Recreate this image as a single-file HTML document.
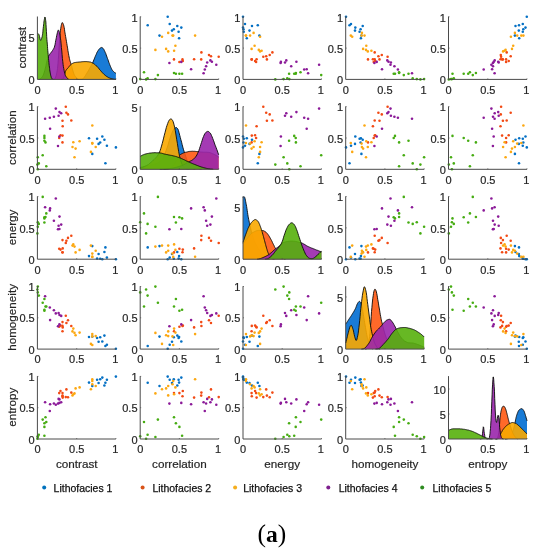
<!DOCTYPE html>
<html lang="en">
<head>
<meta charset="utf-8">
<title>Pair plot of texture features by lithofacies (a)</title>
<style>
html,body{margin:0;padding:0;background:#fff;}
body{width:550px;height:556px;overflow:hidden;font-family:"Liberation Sans",Arial,sans-serif;}
svg{display:block;}
</style>
</head>
<body>
<svg width="550" height="556" viewBox="0 0 550 556" font-family="'Liberation Sans', Arial, sans-serif">
<rect width="550" height="556" fill="#ffffff"/>
<g>
<path d="M76.7 79.4 L77.1 79.4 L77.5 79.4 L78 79.4 L78.4 79.4 L78.9 79.3 L79.3 79.3 L79.7 79.3 L80.2 79.2 L80.6 79.2 L81.1 79.2 L81.5 79.1 L81.9 79.1 L82.4 79 L82.8 78.8 L83.3 78.5 L83.7 78.1 L84.1 77.5 L84.6 76.8 L85 76.1 L85.5 75.4 L85.9 74.7 L86.4 74 L86.8 73.3 L87.2 72.6 L87.7 71.9 L88.1 71.1 L88.6 70.3 L89 69.5 L89.4 68.7 L89.9 67.9 L90.3 67.1 L90.8 66.3 L91.2 65.5 L91.6 64.7 L92.1 63.9 L92.5 63 L93 62.1 L93.4 61.1 L93.8 60 L94.3 58.9 L94.7 57.7 L95.2 56.6 L95.6 55.6 L96.1 54.6 L96.5 53.6 L96.9 52.6 L97.4 51.7 L97.8 51 L98.3 50.3 L98.7 49.7 L99.1 49.1 L99.6 48.6 L100 48.2 L100.5 47.9 L100.9 47.7 L101.3 47.5 L101.8 47.5 L102.2 47.7 L102.7 48 L103.1 48.4 L103.6 48.9 L104 49.7 L104.4 50.6 L104.9 51.6 L105.3 52.6 L105.8 53.6 L106.2 54.8 L106.6 56 L107.1 57.3 L107.5 58.5 L108 59.7 L108.4 60.9 L108.8 62.2 L109.3 63.4 L109.7 64.6 L110.2 65.7 L110.6 66.7 L111 67.7 L111.5 68.7 L111.9 69.5 L112.4 70.2 L112.8 70.8 L113.3 71.3 L113.7 71.7 L114.1 72.1 L114.6 72.5 L115 72.8 L115.5 73 L115.9 73 L115.9 79.4 L76.7 79.4 Z" fill="#006DD1" fill-opacity="0.9" stroke="none"/>
<path d="M76.7 79.4 L77.1 79.4 L77.5 79.4 L78 79.4 L78.4 79.4 L78.9 79.3 L79.3 79.3 L79.7 79.3 L80.2 79.2 L80.6 79.2 L81.1 79.2 L81.5 79.1 L81.9 79.1 L82.4 79 L82.8 78.8 L83.3 78.5 L83.7 78.1 L84.1 77.5 L84.6 76.8 L85 76.1 L85.5 75.4 L85.9 74.7 L86.4 74 L86.8 73.3 L87.2 72.6 L87.7 71.9 L88.1 71.1 L88.6 70.3 L89 69.5 L89.4 68.7 L89.9 67.9 L90.3 67.1 L90.8 66.3 L91.2 65.5 L91.6 64.7 L92.1 63.9 L92.5 63 L93 62.1 L93.4 61.1 L93.8 60 L94.3 58.9 L94.7 57.7 L95.2 56.6 L95.6 55.6 L96.1 54.6 L96.5 53.6 L96.9 52.6 L97.4 51.7 L97.8 51 L98.3 50.3 L98.7 49.7 L99.1 49.1 L99.6 48.6 L100 48.2 L100.5 47.9 L100.9 47.7 L101.3 47.5 L101.8 47.5 L102.2 47.7 L102.7 48 L103.1 48.4 L103.6 48.9 L104 49.7 L104.4 50.6 L104.9 51.6 L105.3 52.6 L105.8 53.6 L106.2 54.8 L106.6 56 L107.1 57.3 L107.5 58.5 L108 59.7 L108.4 60.9 L108.8 62.2 L109.3 63.4 L109.7 64.6 L110.2 65.7 L110.6 66.7 L111 67.7 L111.5 68.7 L111.9 69.5 L112.4 70.2 L112.8 70.8 L113.3 71.3 L113.7 71.7 L114.1 72.1 L114.6 72.5 L115 72.8 L115.5 73 L115.9 73" fill="none" stroke="#0a0a0a" stroke-width="0.9" stroke-linejoin="round"/>
<path d="M53.1 79.4 L53.4 79.4 L53.7 79.3 L54 79.3 L54.3 79.2 L54.6 79 L54.8 78.9 L55.1 78.4 L55.4 77.8 L55.7 77 L56 76.1 L56.3 75.2 L56.6 73.9 L56.9 72.4 L57.2 70.5 L57.5 68.4 L57.8 66 L58 63.3 L58.3 59.6 L58.6 55.1 L58.9 50.3 L59.2 45.7 L59.5 41.1 L59.8 36.7 L60.1 33.4 L60.4 30.8 L60.7 28.7 L61 26.9 L61.2 25.6 L61.5 24.3 L61.8 23.3 L62.1 22.7 L62.4 22.6 L62.7 22.9 L63 23.5 L63.3 24.3 L63.6 25.1 L63.9 26.2 L64.2 27.6 L64.5 29.3 L64.7 31.1 L65 33 L65.3 34.7 L65.6 36.4 L65.9 38.1 L66.2 39.9 L66.5 41.7 L66.8 43.5 L67.1 45.3 L67.4 47.1 L67.7 48.8 L67.9 50.4 L68.2 52.1 L68.5 53.8 L68.8 55.5 L69.1 57 L69.4 58.4 L69.7 59.7 L70 60.8 L70.3 61.8 L70.6 62.7 L70.9 63.7 L71.1 64.6 L71.4 65.5 L71.7 66.5 L72 67.6 L72.3 68.7 L72.6 69.8 L72.9 70.8 L73.2 71.8 L73.5 72.8 L73.8 73.6 L74.1 74.3 L74.3 74.9 L74.6 75.4 L74.9 75.9 L75.2 76.3 L75.5 76.7 L75.8 77.1 L76.1 77.4 L76.4 77.7 L76.7 78 L77 78.2 L77.3 78.4 L77.5 78.7 L77.8 78.9 L78.1 79 L78.4 79.2 L78.7 79.3 L79 79.4 L79 79.4 L53.1 79.4 Z" fill="#FF5912" fill-opacity="0.9" stroke="none"/>
<path d="M53.1 79.4 L53.4 79.4 L53.7 79.3 L54 79.3 L54.3 79.2 L54.6 79 L54.8 78.9 L55.1 78.4 L55.4 77.8 L55.7 77 L56 76.1 L56.3 75.2 L56.6 73.9 L56.9 72.4 L57.2 70.5 L57.5 68.4 L57.8 66 L58 63.3 L58.3 59.6 L58.6 55.1 L58.9 50.3 L59.2 45.7 L59.5 41.1 L59.8 36.7 L60.1 33.4 L60.4 30.8 L60.7 28.7 L61 26.9 L61.2 25.6 L61.5 24.3 L61.8 23.3 L62.1 22.7 L62.4 22.6 L62.7 22.9 L63 23.5 L63.3 24.3 L63.6 25.1 L63.9 26.2 L64.2 27.6 L64.5 29.3 L64.7 31.1 L65 33 L65.3 34.7 L65.6 36.4 L65.9 38.1 L66.2 39.9 L66.5 41.7 L66.8 43.5 L67.1 45.3 L67.4 47.1 L67.7 48.8 L67.9 50.4 L68.2 52.1 L68.5 53.8 L68.8 55.5 L69.1 57 L69.4 58.4 L69.7 59.7 L70 60.8 L70.3 61.8 L70.6 62.7 L70.9 63.7 L71.1 64.6 L71.4 65.5 L71.7 66.5 L72 67.6 L72.3 68.7 L72.6 69.8 L72.9 70.8 L73.2 71.8 L73.5 72.8 L73.8 73.6 L74.1 74.3 L74.3 74.9 L74.6 75.4 L74.9 75.9 L75.2 76.3 L75.5 76.7 L75.8 77.1 L76.1 77.4 L76.4 77.7 L76.7 78 L77 78.2 L77.3 78.4 L77.5 78.7 L77.8 78.9 L78.1 79 L78.4 79.2 L78.7 79.3 L79 79.4" fill="none" stroke="#0a0a0a" stroke-width="0.9" stroke-linejoin="round"/>
<path d="M61 79.4 L61.6 79.3 L62.2 79.2 L62.8 78.9 L63.4 78.5 L64 76.7 L64.7 74 L65.3 71.7 L65.9 70.5 L66.5 69.6 L67.1 68.9 L67.7 68.2 L68.4 67.5 L69 66.7 L69.6 65.9 L70.2 65.2 L70.8 64.6 L71.4 64.1 L72.1 63.7 L72.7 63.3 L73.3 63 L73.9 62.8 L74.5 62.6 L75.2 62.5 L75.8 62.4 L76.4 62.3 L77 62.3 L77.6 62.2 L78.2 62.1 L78.9 62.1 L79.5 62 L80.1 62 L80.7 61.9 L81.3 61.8 L81.9 61.8 L82.6 61.7 L83.2 61.7 L83.8 61.6 L84.4 61.6 L85 61.6 L85.6 61.6 L86.3 61.6 L86.9 61.6 L87.5 61.7 L88.1 61.7 L88.7 61.8 L89.4 61.9 L90 61.9 L90.6 62.1 L91.2 62.4 L91.8 62.7 L92.4 63 L93.1 63.3 L93.7 63.7 L94.3 64.1 L94.9 64.6 L95.5 65.1 L96.1 65.7 L96.8 66.2 L97.4 66.8 L98 67.5 L98.6 68.2 L99.2 69 L99.8 69.8 L100.5 70.5 L101.1 71.2 L101.7 71.9 L102.3 72.6 L102.9 73.2 L103.6 73.9 L104.2 74.5 L104.8 75 L105.4 75.5 L106 76 L106.6 76.4 L107.3 76.8 L107.9 77.2 L108.5 77.6 L109.1 77.8 L109.7 78.1 L110.3 78.3 L111 78.5 L111.6 78.6 L112.2 78.8 L112.8 78.9 L113.4 79.1 L114 79.2 L114.7 79.3 L115.3 79.3 L115.9 79.4 L115.9 79.4 L61 79.4 Z" fill="#F9A900" fill-opacity="0.9" stroke="none"/>
<path d="M61 79.4 L61.6 79.3 L62.2 79.2 L62.8 78.9 L63.4 78.5 L64 76.7 L64.7 74 L65.3 71.7 L65.9 70.5 L66.5 69.6 L67.1 68.9 L67.7 68.2 L68.4 67.5 L69 66.7 L69.6 65.9 L70.2 65.2 L70.8 64.6 L71.4 64.1 L72.1 63.7 L72.7 63.3 L73.3 63 L73.9 62.8 L74.5 62.6 L75.2 62.5 L75.8 62.4 L76.4 62.3 L77 62.3 L77.6 62.2 L78.2 62.1 L78.9 62.1 L79.5 62 L80.1 62 L80.7 61.9 L81.3 61.8 L81.9 61.8 L82.6 61.7 L83.2 61.7 L83.8 61.6 L84.4 61.6 L85 61.6 L85.6 61.6 L86.3 61.6 L86.9 61.6 L87.5 61.7 L88.1 61.7 L88.7 61.8 L89.4 61.9 L90 61.9 L90.6 62.1 L91.2 62.4 L91.8 62.7 L92.4 63 L93.1 63.3 L93.7 63.7 L94.3 64.1 L94.9 64.6 L95.5 65.1 L96.1 65.7 L96.8 66.2 L97.4 66.8 L98 67.5 L98.6 68.2 L99.2 69 L99.8 69.8 L100.5 70.5 L101.1 71.2 L101.7 71.9 L102.3 72.6 L102.9 73.2 L103.6 73.9 L104.2 74.5 L104.8 75 L105.4 75.5 L106 76 L106.6 76.4 L107.3 76.8 L107.9 77.2 L108.5 77.6 L109.1 77.8 L109.7 78.1 L110.3 78.3 L111 78.5 L111.6 78.6 L112.2 78.8 L112.8 78.9 L113.4 79.1 L114 79.2 L114.7 79.3 L115.3 79.3 L115.9 79.4" fill="none" stroke="#0a0a0a" stroke-width="0.9" stroke-linejoin="round"/>
<path d="M39 79.4 L39.3 79.3 L39.6 79.1 L40 79 L40.3 78.8 L40.6 78.5 L41 78.2 L41.3 77.9 L41.7 77.6 L42 77.2 L42.3 76.7 L42.7 76.2 L43 75.6 L43.3 75 L43.7 74.1 L44 73.1 L44.3 72 L44.7 70.8 L45 69.5 L45.3 68.2 L45.7 66.9 L46 65.4 L46.3 63.8 L46.7 62.2 L47 60.8 L47.3 59.6 L47.7 58.6 L48 57.6 L48.4 56.7 L48.7 56 L49 55.3 L49.4 54.8 L49.7 54.3 L50 53.8 L50.4 53.4 L50.7 53 L51 52.6 L51.4 52.1 L51.7 51.7 L52 51.2 L52.4 50.7 L52.7 50.2 L53 49.7 L53.4 49.2 L53.7 48.6 L54.1 47.9 L54.4 47.1 L54.7 45.9 L55.1 44.3 L55.4 42.5 L55.7 40.7 L56.1 38.9 L56.4 37.3 L56.7 35.6 L57.1 34 L57.4 32.5 L57.7 31.3 L58.1 30.4 L58.4 29.9 L58.7 30.4 L59.1 31.4 L59.4 32.5 L59.8 34 L60.1 35.9 L60.4 38.1 L60.8 40.7 L61.1 43.9 L61.4 47.5 L61.8 51 L62.1 54.6 L62.4 58.4 L62.8 61.7 L63.1 64.4 L63.4 66.7 L63.8 68.7 L64.1 70.4 L64.4 71.9 L64.8 73.3 L65.1 74.5 L65.4 75.4 L65.8 76.1 L66.1 76.7 L66.5 77.2 L66.8 77.7 L67.1 78.1 L67.5 78.4 L67.8 78.7 L68.1 79 L68.5 79.2 L68.8 79.4 L68.8 79.4 L39 79.4 Z" fill="#9A26AC" fill-opacity="0.9" stroke="none"/>
<path d="M39 79.4 L39.3 79.3 L39.6 79.1 L40 79 L40.3 78.8 L40.6 78.5 L41 78.2 L41.3 77.9 L41.7 77.6 L42 77.2 L42.3 76.7 L42.7 76.2 L43 75.6 L43.3 75 L43.7 74.1 L44 73.1 L44.3 72 L44.7 70.8 L45 69.5 L45.3 68.2 L45.7 66.9 L46 65.4 L46.3 63.8 L46.7 62.2 L47 60.8 L47.3 59.6 L47.7 58.6 L48 57.6 L48.4 56.7 L48.7 56 L49 55.3 L49.4 54.8 L49.7 54.3 L50 53.8 L50.4 53.4 L50.7 53 L51 52.6 L51.4 52.1 L51.7 51.7 L52 51.2 L52.4 50.7 L52.7 50.2 L53 49.7 L53.4 49.2 L53.7 48.6 L54.1 47.9 L54.4 47.1 L54.7 45.9 L55.1 44.3 L55.4 42.5 L55.7 40.7 L56.1 38.9 L56.4 37.3 L56.7 35.6 L57.1 34 L57.4 32.5 L57.7 31.3 L58.1 30.4 L58.4 29.9 L58.7 30.4 L59.1 31.4 L59.4 32.5 L59.8 34 L60.1 35.9 L60.4 38.1 L60.8 40.7 L61.1 43.9 L61.4 47.5 L61.8 51 L62.1 54.6 L62.4 58.4 L62.8 61.7 L63.1 64.4 L63.4 66.7 L63.8 68.7 L64.1 70.4 L64.4 71.9 L64.8 73.3 L65.1 74.5 L65.4 75.4 L65.8 76.1 L66.1 76.7 L66.5 77.2 L66.8 77.7 L67.1 78.1 L67.5 78.4 L67.8 78.7 L68.1 79 L68.5 79.2 L68.8 79.4" fill="none" stroke="#0a0a0a" stroke-width="0.9" stroke-linejoin="round"/>
<path d="M37.4 33.3 L37.6 33.3 L37.8 33.4 L37.9 33.5 L38.1 33.6 L38.3 33.8 L38.5 34 L38.6 34.2 L38.8 34.4 L39 34.6 L39.2 35 L39.3 35.6 L39.5 36.4 L39.7 37.2 L39.9 38.1 L40 38.9 L40.2 39.6 L40.4 40.1 L40.6 40.3 L40.8 40.3 L40.9 40.1 L41.1 39.8 L41.3 39.4 L41.5 39 L41.6 38.4 L41.8 37.8 L42 37.1 L42.2 36.5 L42.3 35.7 L42.5 34.8 L42.7 33.4 L42.9 31.9 L43 30.1 L43.2 28.3 L43.4 26.6 L43.6 24.9 L43.8 23.4 L43.9 22.1 L44.1 20.9 L44.3 19.7 L44.5 18.6 L44.6 17.7 L44.8 17.1 L45 17 L45.2 17.3 L45.3 18.1 L45.5 19.2 L45.7 20.6 L45.9 22.1 L46 24.4 L46.2 27.9 L46.4 31.3 L46.6 34.1 L46.7 36.7 L46.9 39.3 L47.1 41.7 L47.3 44.1 L47.5 46.4 L47.6 48.6 L47.8 50.8 L48 52.9 L48.2 54.8 L48.3 56.7 L48.5 58.6 L48.7 60.5 L48.9 62.3 L49 64 L49.2 65.6 L49.4 67.1 L49.6 68.4 L49.7 69.7 L49.9 71 L50.1 72.2 L50.3 73.2 L50.5 74.2 L50.6 75 L50.8 75.7 L51 76.3 L51.2 76.9 L51.3 77.4 L51.5 77.9 L51.7 78.2 L51.9 78.5 L52 78.7 L52.2 78.9 L52.4 79.1 L52.6 79.2 L52.7 79.3 L52.9 79.4 L53.1 79.4 L53.1 79.4 L37.4 79.4 Z" fill="#57B00C" fill-opacity="0.9" stroke="none"/>
<path d="M37.4 33.3 L37.6 33.3 L37.8 33.4 L37.9 33.5 L38.1 33.6 L38.3 33.8 L38.5 34 L38.6 34.2 L38.8 34.4 L39 34.6 L39.2 35 L39.3 35.6 L39.5 36.4 L39.7 37.2 L39.9 38.1 L40 38.9 L40.2 39.6 L40.4 40.1 L40.6 40.3 L40.8 40.3 L40.9 40.1 L41.1 39.8 L41.3 39.4 L41.5 39 L41.6 38.4 L41.8 37.8 L42 37.1 L42.2 36.5 L42.3 35.7 L42.5 34.8 L42.7 33.4 L42.9 31.9 L43 30.1 L43.2 28.3 L43.4 26.6 L43.6 24.9 L43.8 23.4 L43.9 22.1 L44.1 20.9 L44.3 19.7 L44.5 18.6 L44.6 17.7 L44.8 17.1 L45 17 L45.2 17.3 L45.3 18.1 L45.5 19.2 L45.7 20.6 L45.9 22.1 L46 24.4 L46.2 27.9 L46.4 31.3 L46.6 34.1 L46.7 36.7 L46.9 39.3 L47.1 41.7 L47.3 44.1 L47.5 46.4 L47.6 48.6 L47.8 50.8 L48 52.9 L48.2 54.8 L48.3 56.7 L48.5 58.6 L48.7 60.5 L48.9 62.3 L49 64 L49.2 65.6 L49.4 67.1 L49.6 68.4 L49.7 69.7 L49.9 71 L50.1 72.2 L50.3 73.2 L50.5 74.2 L50.6 75 L50.8 75.7 L51 76.3 L51.2 76.9 L51.3 77.4 L51.5 77.9 L51.7 78.2 L51.9 78.5 L52 78.7 L52.2 78.9 L52.4 79.1 L52.6 79.2 L52.7 79.3 L52.9 79.4 L53.1 79.4" fill="none" stroke="#0a0a0a" stroke-width="0.9" stroke-linejoin="round"/>
<path d="M37.4 16.5 V79.4 H115.9" fill="none" stroke="#4a4a4a" stroke-width="1"/>
<path d="M76.7 79.4 v-1 M115.9 79.4 v-1" stroke="#4a4a4a" stroke-width="0.7"/>
<path d="M37.4 37.3 h1" stroke="#4a4a4a" stroke-width="0.7"/>
</g>
<g>
<g fill="#0470C4"><circle cx="167.7" cy="16.8" r="1.28"/><circle cx="147.7" cy="25.2" r="1.28"/><circle cx="169.7" cy="24" r="1.28"/><circle cx="177.3" cy="26" r="1.28"/><circle cx="181.3" cy="27.6" r="1.28"/><circle cx="173.8" cy="29.3" r="1.28"/><circle cx="172" cy="30.6" r="1.28"/><circle cx="178.6" cy="31.8" r="1.28"/><circle cx="159.5" cy="35.6" r="1.28"/><circle cx="179.1" cy="38.3" r="1.28"/></g>
<g fill="#F24A14"><circle cx="201.4" cy="52.4" r="1.28"/><circle cx="209" cy="55" r="1.28"/><circle cx="211" cy="56.2" r="1.28"/><circle cx="218.7" cy="56.7" r="1.28"/><circle cx="174" cy="59.4" r="1.28"/><circle cx="182.5" cy="59.4" r="1.28"/><circle cx="194.1" cy="59.2" r="1.28"/><circle cx="201.2" cy="59.4" r="1.28"/><circle cx="179.4" cy="62" r="1.28"/><circle cx="182.8" cy="61" r="1.28"/></g>
<g fill="#FCA812"><circle cx="168.2" cy="32.9" r="1.28"/><circle cx="162" cy="36.7" r="1.28"/><circle cx="172.5" cy="35.6" r="1.28"/><circle cx="195.1" cy="35.6" r="1.28"/><circle cx="173.2" cy="35.6" r="1.28"/><circle cx="175.4" cy="45.7" r="1.28"/><circle cx="155.4" cy="49.9" r="1.28"/><circle cx="166.1" cy="48.9" r="1.28"/><circle cx="168.2" cy="51.4" r="1.28"/><circle cx="174.1" cy="50.8" r="1.28"/></g>
<g fill="#8B1A98"><circle cx="169.4" cy="63" r="1.28"/><circle cx="181.3" cy="61.9" r="1.28"/><circle cx="210.4" cy="60.4" r="1.28"/><circle cx="211.9" cy="61.7" r="1.28"/><circle cx="207.2" cy="62.5" r="1.28"/><circle cx="216.3" cy="64.7" r="1.28"/><circle cx="206.1" cy="66.3" r="1.28"/><circle cx="191.1" cy="69.3" r="1.28"/><circle cx="204.8" cy="69.5" r="1.28"/><circle cx="203.6" cy="73.3" r="1.28"/></g>
<g fill="#46AC12"><circle cx="144" cy="72.3" r="1.28"/><circle cx="157.9" cy="75.1" r="1.28"/><circle cx="174" cy="73" r="1.28"/><circle cx="175.9" cy="73.8" r="1.28"/><circle cx="179.4" cy="73.8" r="1.28"/><circle cx="182.1" cy="73.8" r="1.28"/><circle cx="140.2" cy="79.1" r="1.28"/><circle cx="146.1" cy="79.4" r="1.28"/><circle cx="147.6" cy="78.3" r="1.28"/><circle cx="155.4" cy="79.1" r="1.28"/></g>
<path d="M140.2 16.5 V79.4 H218.7" fill="none" stroke="#4a4a4a" stroke-width="1"/>
<path d="M179.4 79.4 v-1 M218.7 79.4 v-1" stroke="#4a4a4a" stroke-width="0.7"/>
<path d="M140.2 48.1 h1 M140.2 16.8 h1" stroke="#4a4a4a" stroke-width="0.7"/>
</g>
<g>
<g fill="#0470C4"><circle cx="243" cy="16.8" r="1.28"/><circle cx="257.8" cy="25.2" r="1.28"/><circle cx="245" cy="24" r="1.28"/><circle cx="252" cy="26" r="1.28"/><circle cx="243" cy="27.6" r="1.28"/><circle cx="243.5" cy="29.3" r="1.28"/><circle cx="249.5" cy="30.6" r="1.28"/><circle cx="243.8" cy="31.8" r="1.28"/><circle cx="259.4" cy="35.6" r="1.28"/><circle cx="246.8" cy="38.3" r="1.28"/></g>
<g fill="#F24A14"><circle cx="272.4" cy="52.4" r="1.28"/><circle cx="269.7" cy="55" r="1.28"/><circle cx="266.2" cy="56.2" r="1.28"/><circle cx="263.3" cy="56.7" r="1.28"/><circle cx="251.6" cy="59.4" r="1.28"/><circle cx="251.8" cy="59.4" r="1.28"/><circle cx="256.6" cy="59.2" r="1.28"/><circle cx="266.9" cy="59.4" r="1.28"/><circle cx="256.1" cy="62" r="1.28"/><circle cx="255.1" cy="61" r="1.28"/></g>
<g fill="#FCA812"><circle cx="253.6" cy="32.9" r="1.28"/><circle cx="260.1" cy="36.7" r="1.28"/><circle cx="250.1" cy="35.6" r="1.28"/><circle cx="246" cy="35.6" r="1.28"/><circle cx="245.9" cy="35.6" r="1.28"/><circle cx="254.6" cy="45.7" r="1.28"/><circle cx="258.8" cy="49.9" r="1.28"/><circle cx="251.6" cy="48.9" r="1.28"/><circle cx="260.1" cy="51.4" r="1.28"/><circle cx="261.6" cy="50.8" r="1.28"/></g>
<g fill="#8B1A98"><circle cx="280.6" cy="63" r="1.28"/><circle cx="280.9" cy="61.9" r="1.28"/><circle cx="286.3" cy="60.4" r="1.28"/><circle cx="296.4" cy="61.7" r="1.28"/><circle cx="285" cy="62.5" r="1.28"/><circle cx="319.1" cy="64.7" r="1.28"/><circle cx="291.2" cy="66.3" r="1.28"/><circle cx="306.7" cy="69.3" r="1.28"/><circle cx="304.2" cy="69.5" r="1.28"/><circle cx="308.1" cy="73.3" r="1.28"/></g>
<g fill="#46AC12"><circle cx="300.5" cy="72.3" r="1.28"/><circle cx="321.2" cy="75.1" r="1.28"/><circle cx="295.9" cy="73" r="1.28"/><circle cx="289.1" cy="73.8" r="1.28"/><circle cx="295.7" cy="73.8" r="1.28"/><circle cx="294.2" cy="73.8" r="1.28"/><circle cx="289.3" cy="79.1" r="1.28"/><circle cx="275.3" cy="79.4" r="1.28"/><circle cx="287.3" cy="78.3" r="1.28"/><circle cx="283.6" cy="79.1" r="1.28"/></g>
<path d="M243 16.5 V79.4 H321.5" fill="none" stroke="#4a4a4a" stroke-width="1"/>
<path d="M282.2 79.4 v-1 M321.5 79.4 v-1" stroke="#4a4a4a" stroke-width="0.7"/>
<path d="M243 48.1 h1 M243 16.8 h1" stroke="#4a4a4a" stroke-width="0.7"/>
</g>
<g>
<g fill="#0470C4"><circle cx="346" cy="16.8" r="1.28"/><circle cx="349.5" cy="25.2" r="1.28"/><circle cx="351" cy="24" r="1.28"/><circle cx="362.7" cy="26" r="1.28"/><circle cx="355.3" cy="27.6" r="1.28"/><circle cx="360.6" cy="29.3" r="1.28"/><circle cx="355" cy="30.6" r="1.28"/><circle cx="359.6" cy="31.8" r="1.28"/><circle cx="361.4" cy="35.6" r="1.28"/><circle cx="360.9" cy="38.3" r="1.28"/></g>
<g fill="#F24A14"><circle cx="374.7" cy="52.4" r="1.28"/><circle cx="381.8" cy="55" r="1.28"/><circle cx="378.4" cy="56.2" r="1.28"/><circle cx="387.6" cy="56.7" r="1.28"/><circle cx="368" cy="59.4" r="1.28"/><circle cx="374.7" cy="59.4" r="1.28"/><circle cx="372.9" cy="59.2" r="1.28"/><circle cx="379.5" cy="59.4" r="1.28"/><circle cx="373.7" cy="62" r="1.28"/><circle cx="375.2" cy="61" r="1.28"/></g>
<g fill="#FCA812"><circle cx="361.9" cy="32.9" r="1.28"/><circle cx="352.2" cy="36.7" r="1.28"/><circle cx="361.6" cy="35.6" r="1.28"/><circle cx="364.5" cy="35.6" r="1.28"/><circle cx="350.8" cy="35.6" r="1.28"/><circle cx="366.3" cy="45.7" r="1.28"/><circle cx="366" cy="49.9" r="1.28"/><circle cx="363.1" cy="48.9" r="1.28"/><circle cx="367.8" cy="51.4" r="1.28"/><circle cx="371.4" cy="50.8" r="1.28"/></g>
<g fill="#8B1A98"><circle cx="374.4" cy="63" r="1.28"/><circle cx="376.7" cy="61.9" r="1.28"/><circle cx="387.3" cy="60.4" r="1.28"/><circle cx="388.5" cy="61.7" r="1.28"/><circle cx="390.9" cy="62.5" r="1.28"/><circle cx="390.5" cy="64.7" r="1.28"/><circle cx="394.4" cy="66.3" r="1.28"/><circle cx="382" cy="69.3" r="1.28"/><circle cx="397.9" cy="69.5" r="1.28"/><circle cx="412" cy="73.3" r="1.28"/></g>
<g fill="#46AC12"><circle cx="399.1" cy="72.3" r="1.28"/><circle cx="403.8" cy="75.1" r="1.28"/><circle cx="399.1" cy="73" r="1.28"/><circle cx="408.5" cy="73.8" r="1.28"/><circle cx="393.7" cy="73.8" r="1.28"/><circle cx="395" cy="73.8" r="1.28"/><circle cx="416.8" cy="79.1" r="1.28"/><circle cx="420.4" cy="79.4" r="1.28"/><circle cx="412.7" cy="78.3" r="1.28"/><circle cx="424.1" cy="79.1" r="1.28"/></g>
<path d="M345.7 16.5 V79.4 H424.2" fill="none" stroke="#4a4a4a" stroke-width="1"/>
<path d="M384.9 79.4 v-1 M424.2 79.4 v-1" stroke="#4a4a4a" stroke-width="0.7"/>
<path d="M345.7 48.1 h1 M345.7 16.8 h1" stroke="#4a4a4a" stroke-width="0.7"/>
</g>
<g>
<g fill="#0470C4"><circle cx="526.8" cy="16.8" r="1.28"/><circle cx="519" cy="25.2" r="1.28"/><circle cx="522.8" cy="24" r="1.28"/><circle cx="515.5" cy="26" r="1.28"/><circle cx="525.5" cy="27.6" r="1.28"/><circle cx="523.3" cy="29.3" r="1.28"/><circle cx="518.8" cy="30.6" r="1.28"/><circle cx="522.8" cy="31.8" r="1.28"/><circle cx="514.9" cy="35.6" r="1.28"/><circle cx="519.2" cy="38.3" r="1.28"/></g>
<g fill="#F24A14"><circle cx="506.7" cy="52.4" r="1.28"/><circle cx="500.8" cy="55" r="1.28"/><circle cx="510.7" cy="56.2" r="1.28"/><circle cx="501.1" cy="56.7" r="1.28"/><circle cx="506.1" cy="59.4" r="1.28"/><circle cx="502.1" cy="59.4" r="1.28"/><circle cx="500.5" cy="59.2" r="1.28"/><circle cx="502.9" cy="59.4" r="1.28"/><circle cx="506.1" cy="62" r="1.28"/><circle cx="508.7" cy="61" r="1.28"/></g>
<g fill="#FCA812"><circle cx="514.9" cy="32.9" r="1.28"/><circle cx="510.9" cy="36.7" r="1.28"/><circle cx="517.2" cy="35.6" r="1.28"/><circle cx="523.4" cy="35.6" r="1.28"/><circle cx="521.3" cy="35.6" r="1.28"/><circle cx="513.2" cy="45.7" r="1.28"/><circle cx="505.6" cy="49.9" r="1.28"/><circle cx="512" cy="48.9" r="1.28"/><circle cx="503.1" cy="51.4" r="1.28"/><circle cx="504.6" cy="50.8" r="1.28"/></g>
<g fill="#8B1A98"><circle cx="492.9" cy="63" r="1.28"/><circle cx="493.7" cy="61.9" r="1.28"/><circle cx="494.7" cy="60.4" r="1.28"/><circle cx="498.2" cy="61.7" r="1.28"/><circle cx="498.7" cy="62.5" r="1.28"/><circle cx="491.4" cy="64.7" r="1.28"/><circle cx="493" cy="66.3" r="1.28"/><circle cx="492.1" cy="69.3" r="1.28"/><circle cx="483.7" cy="69.5" r="1.28"/><circle cx="494.6" cy="73.3" r="1.28"/></g>
<g fill="#46AC12"><circle cx="469.9" cy="72.3" r="1.28"/><circle cx="472.8" cy="75.1" r="1.28"/><circle cx="475.9" cy="73" r="1.28"/><circle cx="468.2" cy="73.8" r="1.28"/><circle cx="463.7" cy="73.8" r="1.28"/><circle cx="452.5" cy="73.8" r="1.28"/><circle cx="451.9" cy="79.1" r="1.28"/><circle cx="448.8" cy="79.4" r="1.28"/><circle cx="453.8" cy="78.3" r="1.28"/><circle cx="451" cy="79.1" r="1.28"/></g>
<path d="M448.5 16.5 V79.4 H527" fill="none" stroke="#4a4a4a" stroke-width="1"/>
<path d="M487.8 79.4 v-1 M527 79.4 v-1" stroke="#4a4a4a" stroke-width="0.7"/>
<path d="M448.5 48.1 h1 M448.5 16.8 h1" stroke="#4a4a4a" stroke-width="0.7"/>
</g>
<g>
<g fill="#0470C4"><circle cx="115.9" cy="147.4" r="1.28"/><circle cx="105.4" cy="163.3" r="1.28"/><circle cx="106.9" cy="145.8" r="1.28"/><circle cx="104.4" cy="139.8" r="1.28"/><circle cx="102.3" cy="136.5" r="1.28"/><circle cx="100.2" cy="142.5" r="1.28"/><circle cx="98.6" cy="143.9" r="1.28"/><circle cx="97.1" cy="138.7" r="1.28"/><circle cx="92.3" cy="153.9" r="1.28"/><circle cx="89" cy="138.3" r="1.28"/></g>
<g fill="#F24A14"><circle cx="71.3" cy="120.5" r="1.28"/><circle cx="68" cy="114.4" r="1.28"/><circle cx="66.4" cy="112.8" r="1.28"/><circle cx="65.8" cy="106.7" r="1.28"/><circle cx="62.5" cy="142.4" r="1.28"/><circle cx="62.5" cy="135.6" r="1.28"/><circle cx="62.7" cy="126.3" r="1.28"/><circle cx="62.5" cy="120.7" r="1.28"/><circle cx="59.2" cy="138" r="1.28"/><circle cx="60.5" cy="135.3" r="1.28"/></g>
<g fill="#FCA812"><circle cx="95.7" cy="147" r="1.28"/><circle cx="90.9" cy="151.9" r="1.28"/><circle cx="92.3" cy="143.6" r="1.28"/><circle cx="92.3" cy="125.5" r="1.28"/><circle cx="92.3" cy="143" r="1.28"/><circle cx="79.6" cy="141.2" r="1.28"/><circle cx="74.5" cy="157.2" r="1.28"/><circle cx="75.6" cy="148.6" r="1.28"/><circle cx="72.5" cy="147" r="1.28"/><circle cx="73.3" cy="142.3" r="1.28"/></g>
<g fill="#8B1A98"><circle cx="58" cy="146" r="1.28"/><circle cx="59.4" cy="136.5" r="1.28"/><circle cx="61.2" cy="113.3" r="1.28"/><circle cx="59.5" cy="112.1" r="1.28"/><circle cx="58.6" cy="115.8" r="1.28"/><circle cx="55.8" cy="108.6" r="1.28"/><circle cx="53.9" cy="116.8" r="1.28"/><circle cx="50.1" cy="128.7" r="1.28"/><circle cx="49.8" cy="117.8" r="1.28"/><circle cx="45.1" cy="118.7" r="1.28"/></g>
<g fill="#46AC12"><circle cx="46.3" cy="166.3" r="1.28"/><circle cx="42.7" cy="155.2" r="1.28"/><circle cx="45.5" cy="142.4" r="1.28"/><circle cx="44.4" cy="140.8" r="1.28"/><circle cx="44.4" cy="138" r="1.28"/><circle cx="44.4" cy="135.9" r="1.28"/><circle cx="37.8" cy="169.3" r="1.28"/><circle cx="37.4" cy="164.6" r="1.28"/><circle cx="38.8" cy="163.4" r="1.28"/><circle cx="37.8" cy="157.2" r="1.28"/></g>
<path d="M37.4 106.4 V169.3 H115.9" fill="none" stroke="#4a4a4a" stroke-width="1"/>
<path d="M76.7 169.3 v-1 M115.9 169.3 v-1" stroke="#4a4a4a" stroke-width="0.7"/>
<path d="M37.4 138 h1 M37.4 106.7 h1" stroke="#4a4a4a" stroke-width="0.7"/>
</g>
<g>
<path d="M140.2 167.5 L140.8 167.3 L141.4 167.2 L142.1 167 L142.7 166.9 L143.3 166.7 L143.9 166.6 L144.5 166.4 L145.1 166.3 L145.8 166.2 L146.4 166 L147 165.9 L147.6 165.7 L148.2 165.6 L148.8 165.4 L149.5 165.3 L150.1 165.2 L150.7 165.1 L151.3 164.9 L151.9 164.8 L152.5 164.7 L153.2 164.6 L153.8 164.4 L154.4 164.2 L155 164.1 L155.6 163.9 L156.3 163.6 L156.9 163.4 L157.5 163.1 L158.1 162.8 L158.7 162.4 L159.3 162 L160 161.5 L160.6 161 L161.2 160.5 L161.8 159.9 L162.4 159.2 L163 158.2 L163.7 157 L164.3 155.5 L164.9 153.9 L165.5 152.2 L166.1 150.5 L166.7 148.8 L167.4 147.1 L168 145.1 L168.6 143 L169.2 140.9 L169.8 138.8 L170.5 136.8 L171.1 135 L171.7 133.5 L172.3 132.1 L172.9 130.8 L173.5 129.6 L174.2 128.7 L174.8 128.1 L175.4 127.8 L176 127.6 L176.6 127.6 L177.2 128.2 L177.9 129.1 L178.5 130.6 L179.1 132.9 L179.7 135.2 L180.3 137.5 L180.9 139.8 L181.6 142.2 L182.2 144.7 L182.8 147.1 L183.4 149.2 L184 151.1 L184.7 153 L185.3 155 L185.9 156.9 L186.5 158.7 L187.1 160.3 L187.7 161.7 L188.4 163 L189 164.1 L189.6 165.2 L190.2 166 L190.8 166.6 L191.4 167.2 L192.1 167.8 L192.7 168.3 L193.3 168.7 L193.9 169 L194.5 169.2 L195.1 169.3 L195.1 169.3 L140.2 169.3 Z" fill="#006DD1" fill-opacity="0.9" stroke="none"/>
<path d="M140.2 167.5 L140.8 167.3 L141.4 167.2 L142.1 167 L142.7 166.9 L143.3 166.7 L143.9 166.6 L144.5 166.4 L145.1 166.3 L145.8 166.2 L146.4 166 L147 165.9 L147.6 165.7 L148.2 165.6 L148.8 165.4 L149.5 165.3 L150.1 165.2 L150.7 165.1 L151.3 164.9 L151.9 164.8 L152.5 164.7 L153.2 164.6 L153.8 164.4 L154.4 164.2 L155 164.1 L155.6 163.9 L156.3 163.6 L156.9 163.4 L157.5 163.1 L158.1 162.8 L158.7 162.4 L159.3 162 L160 161.5 L160.6 161 L161.2 160.5 L161.8 159.9 L162.4 159.2 L163 158.2 L163.7 157 L164.3 155.5 L164.9 153.9 L165.5 152.2 L166.1 150.5 L166.7 148.8 L167.4 147.1 L168 145.1 L168.6 143 L169.2 140.9 L169.8 138.8 L170.5 136.8 L171.1 135 L171.7 133.5 L172.3 132.1 L172.9 130.8 L173.5 129.6 L174.2 128.7 L174.8 128.1 L175.4 127.8 L176 127.6 L176.6 127.6 L177.2 128.2 L177.9 129.1 L178.5 130.6 L179.1 132.9 L179.7 135.2 L180.3 137.5 L180.9 139.8 L181.6 142.2 L182.2 144.7 L182.8 147.1 L183.4 149.2 L184 151.1 L184.7 153 L185.3 155 L185.9 156.9 L186.5 158.7 L187.1 160.3 L187.7 161.7 L188.4 163 L189 164.1 L189.6 165.2 L190.2 166 L190.8 166.6 L191.4 167.2 L192.1 167.8 L192.7 168.3 L193.3 168.7 L193.9 169 L194.5 169.2 L195.1 169.3" fill="none" stroke="#0a0a0a" stroke-width="0.9" stroke-linejoin="round"/>
<path d="M163.8 169.3 L164.4 169.3 L165 169.3 L165.6 169.2 L166.2 169.1 L166.8 169.1 L167.5 169 L168.1 168.9 L168.7 168.8 L169.3 168.6 L169.9 168.4 L170.5 168 L171.2 167.5 L171.8 167 L172.4 166.4 L173 165.8 L173.6 165.1 L174.2 164.2 L174.9 163.2 L175.5 162.1 L176.1 161.1 L176.7 160 L177.3 158.8 L178 157.6 L178.6 156.5 L179.2 155.7 L179.8 155.1 L180.4 154.6 L181 154.2 L181.7 153.8 L182.3 153.5 L182.9 153.2 L183.5 152.9 L184.1 152.7 L184.7 152.5 L185.4 152.3 L186 152.2 L186.6 152.1 L187.2 151.9 L187.8 151.8 L188.4 151.6 L189.1 151.5 L189.7 151.4 L190.3 151.4 L190.9 151.3 L191.5 151.3 L192.2 151.2 L192.8 151.3 L193.4 151.3 L194 151.3 L194.6 151.3 L195.2 151.4 L195.9 151.4 L196.5 151.5 L197.1 151.5 L197.7 151.6 L198.3 151.7 L198.9 151.7 L199.6 151.8 L200.2 151.9 L200.8 152 L201.4 152 L202 152.1 L202.6 152.1 L203.3 152.2 L203.9 152.2 L204.5 152.2 L205.1 152.2 L205.7 152.2 L206.4 152.2 L207 152.3 L207.6 152.3 L208.2 152.3 L208.8 152.4 L209.4 152.5 L210.1 152.7 L210.7 152.9 L211.3 153.1 L211.9 153.4 L212.5 153.7 L213.1 153.9 L213.8 154.2 L214.4 154.5 L215 154.8 L215.6 155.1 L216.2 155.5 L216.8 155.8 L217.5 156.2 L218.1 156.6 L218.7 157 L218.7 169.3 L163.8 169.3 Z" fill="#FF5912" fill-opacity="0.9" stroke="none"/>
<path d="M163.8 169.3 L164.4 169.3 L165 169.3 L165.6 169.2 L166.2 169.1 L166.8 169.1 L167.5 169 L168.1 168.9 L168.7 168.8 L169.3 168.6 L169.9 168.4 L170.5 168 L171.2 167.5 L171.8 167 L172.4 166.4 L173 165.8 L173.6 165.1 L174.2 164.2 L174.9 163.2 L175.5 162.1 L176.1 161.1 L176.7 160 L177.3 158.8 L178 157.6 L178.6 156.5 L179.2 155.7 L179.8 155.1 L180.4 154.6 L181 154.2 L181.7 153.8 L182.3 153.5 L182.9 153.2 L183.5 152.9 L184.1 152.7 L184.7 152.5 L185.4 152.3 L186 152.2 L186.6 152.1 L187.2 151.9 L187.8 151.8 L188.4 151.6 L189.1 151.5 L189.7 151.4 L190.3 151.4 L190.9 151.3 L191.5 151.3 L192.2 151.2 L192.8 151.3 L193.4 151.3 L194 151.3 L194.6 151.3 L195.2 151.4 L195.9 151.4 L196.5 151.5 L197.1 151.5 L197.7 151.6 L198.3 151.7 L198.9 151.7 L199.6 151.8 L200.2 151.9 L200.8 152 L201.4 152 L202 152.1 L202.6 152.1 L203.3 152.2 L203.9 152.2 L204.5 152.2 L205.1 152.2 L205.7 152.2 L206.4 152.2 L207 152.3 L207.6 152.3 L208.2 152.3 L208.8 152.4 L209.4 152.5 L210.1 152.7 L210.7 152.9 L211.3 153.1 L211.9 153.4 L212.5 153.7 L213.1 153.9 L213.8 154.2 L214.4 154.5 L215 154.8 L215.6 155.1 L216.2 155.5 L216.8 155.8 L217.5 156.2 L218.1 156.6 L218.7 157" fill="none" stroke="#0a0a0a" stroke-width="0.9" stroke-linejoin="round"/>
<path d="M140.2 168.1 L140.9 167.9 L141.6 167.7 L142.3 167.5 L143 167.3 L143.6 167 L144.3 166.7 L145 166.4 L145.7 166 L146.4 165.7 L147.1 165.3 L147.8 164.8 L148.5 164.4 L149.1 163.8 L149.8 163.3 L150.5 162.7 L151.2 162.1 L151.9 161.5 L152.6 160.9 L153.3 160.2 L154 159.6 L154.6 159 L155.3 158.3 L156 157.6 L156.7 156.8 L157.4 155.9 L158.1 154.8 L158.8 153.6 L159.5 152.1 L160.2 150.4 L160.8 148.4 L161.5 146.1 L162.2 143.6 L162.9 141 L163.6 138.1 L164.3 135.2 L165 132.6 L165.7 130 L166.3 127.6 L167 125.4 L167.7 123.5 L168.4 121.6 L169.1 120.2 L169.8 119.5 L170.5 119 L171.2 118.9 L171.8 119.4 L172.5 120.3 L173.2 121.8 L173.9 124.2 L174.6 127.2 L175.3 130.7 L176 135 L176.7 139.3 L177.4 143.4 L178 147.5 L178.7 151.7 L179.4 155.4 L180.1 158.3 L180.8 160.8 L181.5 162.8 L182.2 164.6 L182.9 166.2 L183.5 167.3 L184.2 167.7 L184.9 168.1 L185.6 168.4 L186.3 168.6 L187 168.7 L187.7 168.7 L188.4 168.7 L189 168.6 L189.7 168.5 L190.4 168.5 L191.1 168.4 L191.8 168.3 L192.5 168.2 L193.2 168.2 L193.9 168.1 L194.6 168.1 L195.2 168.1 L195.9 168.1 L196.6 168.2 L197.3 168.3 L198 168.4 L198.7 168.5 L199.4 168.7 L200.1 168.9 L200.7 169.1 L201.4 169.3 L201.4 169.3 L140.2 169.3 Z" fill="#F9A900" fill-opacity="0.9" stroke="none"/>
<path d="M140.2 168.1 L140.9 167.9 L141.6 167.7 L142.3 167.5 L143 167.3 L143.6 167 L144.3 166.7 L145 166.4 L145.7 166 L146.4 165.7 L147.1 165.3 L147.8 164.8 L148.5 164.4 L149.1 163.8 L149.8 163.3 L150.5 162.7 L151.2 162.1 L151.9 161.5 L152.6 160.9 L153.3 160.2 L154 159.6 L154.6 159 L155.3 158.3 L156 157.6 L156.7 156.8 L157.4 155.9 L158.1 154.8 L158.8 153.6 L159.5 152.1 L160.2 150.4 L160.8 148.4 L161.5 146.1 L162.2 143.6 L162.9 141 L163.6 138.1 L164.3 135.2 L165 132.6 L165.7 130 L166.3 127.6 L167 125.4 L167.7 123.5 L168.4 121.6 L169.1 120.2 L169.8 119.5 L170.5 119 L171.2 118.9 L171.8 119.4 L172.5 120.3 L173.2 121.8 L173.9 124.2 L174.6 127.2 L175.3 130.7 L176 135 L176.7 139.3 L177.4 143.4 L178 147.5 L178.7 151.7 L179.4 155.4 L180.1 158.3 L180.8 160.8 L181.5 162.8 L182.2 164.6 L182.9 166.2 L183.5 167.3 L184.2 167.7 L184.9 168.1 L185.6 168.4 L186.3 168.6 L187 168.7 L187.7 168.7 L188.4 168.7 L189 168.6 L189.7 168.5 L190.4 168.5 L191.1 168.4 L191.8 168.3 L192.5 168.2 L193.2 168.2 L193.9 168.1 L194.6 168.1 L195.2 168.1 L195.9 168.1 L196.6 168.2 L197.3 168.3 L198 168.4 L198.7 168.5 L199.4 168.7 L200.1 168.9 L200.7 169.1 L201.4 169.3" fill="none" stroke="#0a0a0a" stroke-width="0.9" stroke-linejoin="round"/>
<path d="M159.8 169.3 L160.5 169.3 L161.1 169.3 L161.8 169.3 L162.5 169.2 L163.1 169.2 L163.8 169.2 L164.5 169.1 L165.1 169.1 L165.8 169 L166.4 168.9 L167.1 168.9 L167.8 168.8 L168.4 168.7 L169.1 168.7 L169.7 168.6 L170.4 168.5 L171.1 168.4 L171.7 168.3 L172.4 168.2 L173.1 168 L173.7 167.9 L174.4 167.7 L175 167.6 L175.7 167.4 L176.4 167.3 L177 167.1 L177.7 166.9 L178.3 166.7 L179 166.5 L179.7 166.3 L180.3 166.1 L181 165.9 L181.7 165.7 L182.3 165.4 L183 165.1 L183.6 164.8 L184.3 164.5 L185 164.1 L185.6 163.7 L186.3 163.3 L186.9 162.9 L187.6 162.5 L188.3 162.1 L188.9 161.8 L189.6 161.4 L190.3 161.1 L190.9 160.8 L191.6 160.5 L192.2 160.1 L192.9 159.6 L193.6 159.1 L194.2 158.5 L194.9 157.8 L195.5 157 L196.2 156.1 L196.9 155 L197.5 153.6 L198.2 152.1 L198.9 150.5 L199.5 148.6 L200.2 146.5 L200.8 144.5 L201.5 142.4 L202.2 140.3 L202.8 138.2 L203.5 136.6 L204.1 135.1 L204.8 133.8 L205.5 132.8 L206.1 132.2 L206.8 131.7 L207.5 131.4 L208.1 131.4 L208.8 131.7 L209.4 132.3 L210.1 132.9 L210.8 133.9 L211.4 135.3 L212.1 136.8 L212.7 138.4 L213.4 140.2 L214.1 142.1 L214.7 144 L215.4 145.8 L216.1 147.5 L216.7 149.2 L217.4 151 L218 152.9 L218.7 154.8 L218.7 169.3 L159.8 169.3 Z" fill="#9A26AC" fill-opacity="0.9" stroke="none"/>
<path d="M159.8 169.3 L160.5 169.3 L161.1 169.3 L161.8 169.3 L162.5 169.2 L163.1 169.2 L163.8 169.2 L164.5 169.1 L165.1 169.1 L165.8 169 L166.4 168.9 L167.1 168.9 L167.8 168.8 L168.4 168.7 L169.1 168.7 L169.7 168.6 L170.4 168.5 L171.1 168.4 L171.7 168.3 L172.4 168.2 L173.1 168 L173.7 167.9 L174.4 167.7 L175 167.6 L175.7 167.4 L176.4 167.3 L177 167.1 L177.7 166.9 L178.3 166.7 L179 166.5 L179.7 166.3 L180.3 166.1 L181 165.9 L181.7 165.7 L182.3 165.4 L183 165.1 L183.6 164.8 L184.3 164.5 L185 164.1 L185.6 163.7 L186.3 163.3 L186.9 162.9 L187.6 162.5 L188.3 162.1 L188.9 161.8 L189.6 161.4 L190.3 161.1 L190.9 160.8 L191.6 160.5 L192.2 160.1 L192.9 159.6 L193.6 159.1 L194.2 158.5 L194.9 157.8 L195.5 157 L196.2 156.1 L196.9 155 L197.5 153.6 L198.2 152.1 L198.9 150.5 L199.5 148.6 L200.2 146.5 L200.8 144.5 L201.5 142.4 L202.2 140.3 L202.8 138.2 L203.5 136.6 L204.1 135.1 L204.8 133.8 L205.5 132.8 L206.1 132.2 L206.8 131.7 L207.5 131.4 L208.1 131.4 L208.8 131.7 L209.4 132.3 L210.1 132.9 L210.8 133.9 L211.4 135.3 L212.1 136.8 L212.7 138.4 L213.4 140.2 L214.1 142.1 L214.7 144 L215.4 145.8 L216.1 147.5 L216.7 149.2 L217.4 151 L218 152.9 L218.7 154.8" fill="none" stroke="#0a0a0a" stroke-width="0.9" stroke-linejoin="round"/>
<path d="M140.2 156.4 L141 155.9 L141.8 155.5 L142.7 155 L143.5 154.7 L144.3 154.4 L145.1 154.1 L145.9 153.9 L146.8 153.7 L147.6 153.5 L148.4 153.4 L149.2 153.2 L150 153.1 L150.9 153 L151.7 152.9 L152.5 152.8 L153.3 152.8 L154.1 152.7 L155 152.7 L155.8 152.7 L156.6 152.8 L157.4 152.8 L158.2 152.8 L159.1 152.8 L159.9 152.9 L160.7 153 L161.5 153.2 L162.3 153.4 L163.2 153.7 L164 153.9 L164.8 154.1 L165.6 154.3 L166.4 154.5 L167.3 154.6 L168.1 154.8 L168.9 155 L169.7 155.1 L170.6 155.3 L171.4 155.4 L172.2 155.6 L173 155.8 L173.8 156 L174.7 156.2 L175.5 156.4 L176.3 156.6 L177.1 156.9 L177.9 157.2 L178.8 157.5 L179.6 157.8 L180.4 158.1 L181.2 158.5 L182 158.8 L182.9 159.2 L183.7 159.6 L184.5 159.9 L185.3 160.3 L186.1 160.8 L187 161.2 L187.8 161.5 L188.6 161.9 L189.4 162.3 L190.2 162.6 L191.1 163 L191.9 163.3 L192.7 163.7 L193.5 164 L194.3 164.3 L195.2 164.6 L196 165 L196.8 165.3 L197.6 165.6 L198.4 165.9 L199.3 166.3 L200.1 166.5 L200.9 166.8 L201.7 167.1 L202.5 167.3 L203.4 167.6 L204.2 167.8 L205 168 L205.8 168.2 L206.6 168.4 L207.5 168.5 L208.3 168.7 L209.1 168.8 L209.9 168.9 L210.7 169.1 L211.6 169.1 L212.4 169.2 L213.2 169.3 L213.2 169.3 L140.2 169.3 Z" fill="#57B00C" fill-opacity="0.9" stroke="none"/>
<path d="M140.2 156.4 L141 155.9 L141.8 155.5 L142.7 155 L143.5 154.7 L144.3 154.4 L145.1 154.1 L145.9 153.9 L146.8 153.7 L147.6 153.5 L148.4 153.4 L149.2 153.2 L150 153.1 L150.9 153 L151.7 152.9 L152.5 152.8 L153.3 152.8 L154.1 152.7 L155 152.7 L155.8 152.7 L156.6 152.8 L157.4 152.8 L158.2 152.8 L159.1 152.8 L159.9 152.9 L160.7 153 L161.5 153.2 L162.3 153.4 L163.2 153.7 L164 153.9 L164.8 154.1 L165.6 154.3 L166.4 154.5 L167.3 154.6 L168.1 154.8 L168.9 155 L169.7 155.1 L170.6 155.3 L171.4 155.4 L172.2 155.6 L173 155.8 L173.8 156 L174.7 156.2 L175.5 156.4 L176.3 156.6 L177.1 156.9 L177.9 157.2 L178.8 157.5 L179.6 157.8 L180.4 158.1 L181.2 158.5 L182 158.8 L182.9 159.2 L183.7 159.6 L184.5 159.9 L185.3 160.3 L186.1 160.8 L187 161.2 L187.8 161.5 L188.6 161.9 L189.4 162.3 L190.2 162.6 L191.1 163 L191.9 163.3 L192.7 163.7 L193.5 164 L194.3 164.3 L195.2 164.6 L196 165 L196.8 165.3 L197.6 165.6 L198.4 165.9 L199.3 166.3 L200.1 166.5 L200.9 166.8 L201.7 167.1 L202.5 167.3 L203.4 167.6 L204.2 167.8 L205 168 L205.8 168.2 L206.6 168.4 L207.5 168.5 L208.3 168.7 L209.1 168.8 L209.9 168.9 L210.7 169.1 L211.6 169.1 L212.4 169.2 L213.2 169.3" fill="none" stroke="#0a0a0a" stroke-width="0.9" stroke-linejoin="round"/>
<path d="M140.2 106.4 V169.3 H218.7" fill="none" stroke="#4a4a4a" stroke-width="1"/>
<path d="M179.4 169.3 v-1 M218.7 169.3 v-1" stroke="#4a4a4a" stroke-width="0.7"/>
<path d="M140.2 106.9 h1" stroke="#4a4a4a" stroke-width="0.7"/>
</g>
<g>
<g fill="#0470C4"><circle cx="243" cy="147.4" r="1.28"/><circle cx="257.8" cy="163.3" r="1.28"/><circle cx="245" cy="145.8" r="1.28"/><circle cx="252" cy="139.8" r="1.28"/><circle cx="243" cy="136.5" r="1.28"/><circle cx="243.5" cy="142.5" r="1.28"/><circle cx="249.5" cy="143.9" r="1.28"/><circle cx="243.8" cy="138.7" r="1.28"/><circle cx="259.4" cy="153.9" r="1.28"/><circle cx="246.8" cy="138.3" r="1.28"/></g>
<g fill="#F24A14"><circle cx="272.4" cy="120.5" r="1.28"/><circle cx="269.7" cy="114.4" r="1.28"/><circle cx="266.2" cy="112.8" r="1.28"/><circle cx="263.3" cy="106.7" r="1.28"/><circle cx="251.6" cy="142.4" r="1.28"/><circle cx="251.8" cy="135.6" r="1.28"/><circle cx="256.6" cy="126.3" r="1.28"/><circle cx="266.9" cy="120.7" r="1.28"/><circle cx="256.1" cy="138" r="1.28"/><circle cx="255.1" cy="135.3" r="1.28"/></g>
<g fill="#FCA812"><circle cx="253.6" cy="147" r="1.28"/><circle cx="260.1" cy="151.9" r="1.28"/><circle cx="250.1" cy="143.6" r="1.28"/><circle cx="246" cy="125.5" r="1.28"/><circle cx="245.9" cy="143" r="1.28"/><circle cx="254.6" cy="141.2" r="1.28"/><circle cx="258.8" cy="157.2" r="1.28"/><circle cx="251.6" cy="148.6" r="1.28"/><circle cx="260.1" cy="147" r="1.28"/><circle cx="261.6" cy="142.3" r="1.28"/></g>
<g fill="#8B1A98"><circle cx="280.6" cy="146" r="1.28"/><circle cx="280.9" cy="136.5" r="1.28"/><circle cx="286.3" cy="113.3" r="1.28"/><circle cx="296.4" cy="112.1" r="1.28"/><circle cx="285" cy="115.8" r="1.28"/><circle cx="319.1" cy="108.6" r="1.28"/><circle cx="291.2" cy="116.8" r="1.28"/><circle cx="306.7" cy="128.7" r="1.28"/><circle cx="304.2" cy="117.8" r="1.28"/><circle cx="308.1" cy="118.7" r="1.28"/></g>
<g fill="#46AC12"><circle cx="300.5" cy="166.3" r="1.28"/><circle cx="321.2" cy="155.2" r="1.28"/><circle cx="295.9" cy="142.4" r="1.28"/><circle cx="289.1" cy="140.8" r="1.28"/><circle cx="295.7" cy="138" r="1.28"/><circle cx="294.2" cy="135.9" r="1.28"/><circle cx="289.3" cy="169.3" r="1.28"/><circle cx="275.3" cy="164.6" r="1.28"/><circle cx="287.3" cy="163.4" r="1.28"/><circle cx="283.6" cy="157.2" r="1.28"/></g>
<path d="M243 106.4 V169.3 H321.5" fill="none" stroke="#4a4a4a" stroke-width="1"/>
<path d="M282.2 169.3 v-1 M321.5 169.3 v-1" stroke="#4a4a4a" stroke-width="0.7"/>
<path d="M243 138 h1 M243 106.7 h1" stroke="#4a4a4a" stroke-width="0.7"/>
</g>
<g>
<g fill="#0470C4"><circle cx="346" cy="147.4" r="1.28"/><circle cx="349.5" cy="163.3" r="1.28"/><circle cx="351" cy="145.8" r="1.28"/><circle cx="362.7" cy="139.8" r="1.28"/><circle cx="355.3" cy="136.5" r="1.28"/><circle cx="360.6" cy="142.5" r="1.28"/><circle cx="355" cy="143.9" r="1.28"/><circle cx="359.6" cy="138.7" r="1.28"/><circle cx="361.4" cy="153.9" r="1.28"/><circle cx="360.9" cy="138.3" r="1.28"/></g>
<g fill="#F24A14"><circle cx="374.7" cy="120.5" r="1.28"/><circle cx="381.8" cy="114.4" r="1.28"/><circle cx="378.4" cy="112.8" r="1.28"/><circle cx="387.6" cy="106.7" r="1.28"/><circle cx="368" cy="142.4" r="1.28"/><circle cx="374.7" cy="135.6" r="1.28"/><circle cx="372.9" cy="126.3" r="1.28"/><circle cx="379.5" cy="120.7" r="1.28"/><circle cx="373.7" cy="138" r="1.28"/><circle cx="375.2" cy="135.3" r="1.28"/></g>
<g fill="#FCA812"><circle cx="361.9" cy="147" r="1.28"/><circle cx="352.2" cy="151.9" r="1.28"/><circle cx="361.6" cy="143.6" r="1.28"/><circle cx="364.5" cy="125.5" r="1.28"/><circle cx="350.8" cy="143" r="1.28"/><circle cx="366.3" cy="141.2" r="1.28"/><circle cx="366" cy="157.2" r="1.28"/><circle cx="363.1" cy="148.6" r="1.28"/><circle cx="367.8" cy="147" r="1.28"/><circle cx="371.4" cy="142.3" r="1.28"/></g>
<g fill="#8B1A98"><circle cx="374.4" cy="146" r="1.28"/><circle cx="376.7" cy="136.5" r="1.28"/><circle cx="387.3" cy="113.3" r="1.28"/><circle cx="388.5" cy="112.1" r="1.28"/><circle cx="390.9" cy="115.8" r="1.28"/><circle cx="390.5" cy="108.6" r="1.28"/><circle cx="394.4" cy="116.8" r="1.28"/><circle cx="382" cy="128.7" r="1.28"/><circle cx="397.9" cy="117.8" r="1.28"/><circle cx="412" cy="118.7" r="1.28"/></g>
<g fill="#46AC12"><circle cx="399.1" cy="166.3" r="1.28"/><circle cx="403.8" cy="155.2" r="1.28"/><circle cx="399.1" cy="142.4" r="1.28"/><circle cx="408.5" cy="140.8" r="1.28"/><circle cx="393.7" cy="138" r="1.28"/><circle cx="395" cy="135.9" r="1.28"/><circle cx="416.8" cy="169.3" r="1.28"/><circle cx="420.4" cy="164.6" r="1.28"/><circle cx="412.7" cy="163.4" r="1.28"/><circle cx="424.1" cy="157.2" r="1.28"/></g>
<path d="M345.7 106.4 V169.3 H424.2" fill="none" stroke="#4a4a4a" stroke-width="1"/>
<path d="M384.9 169.3 v-1 M424.2 169.3 v-1" stroke="#4a4a4a" stroke-width="0.7"/>
<path d="M345.7 138 h1 M345.7 106.7 h1" stroke="#4a4a4a" stroke-width="0.7"/>
</g>
<g>
<g fill="#0470C4"><circle cx="526.8" cy="147.4" r="1.28"/><circle cx="519" cy="163.3" r="1.28"/><circle cx="522.8" cy="145.8" r="1.28"/><circle cx="515.5" cy="139.8" r="1.28"/><circle cx="525.5" cy="136.5" r="1.28"/><circle cx="523.3" cy="142.5" r="1.28"/><circle cx="518.8" cy="143.9" r="1.28"/><circle cx="522.8" cy="138.7" r="1.28"/><circle cx="514.9" cy="153.9" r="1.28"/><circle cx="519.2" cy="138.3" r="1.28"/></g>
<g fill="#F24A14"><circle cx="506.7" cy="120.5" r="1.28"/><circle cx="500.8" cy="114.4" r="1.28"/><circle cx="510.7" cy="112.8" r="1.28"/><circle cx="501.1" cy="106.7" r="1.28"/><circle cx="506.1" cy="142.4" r="1.28"/><circle cx="502.1" cy="135.6" r="1.28"/><circle cx="500.5" cy="126.3" r="1.28"/><circle cx="502.9" cy="120.7" r="1.28"/><circle cx="506.1" cy="138" r="1.28"/><circle cx="508.7" cy="135.3" r="1.28"/></g>
<g fill="#FCA812"><circle cx="514.9" cy="147" r="1.28"/><circle cx="510.9" cy="151.9" r="1.28"/><circle cx="517.2" cy="143.6" r="1.28"/><circle cx="523.4" cy="125.5" r="1.28"/><circle cx="521.3" cy="143" r="1.28"/><circle cx="513.2" cy="141.2" r="1.28"/><circle cx="505.6" cy="157.2" r="1.28"/><circle cx="512" cy="148.6" r="1.28"/><circle cx="503.1" cy="147" r="1.28"/><circle cx="504.6" cy="142.3" r="1.28"/></g>
<g fill="#8B1A98"><circle cx="492.9" cy="146" r="1.28"/><circle cx="493.7" cy="136.5" r="1.28"/><circle cx="494.7" cy="113.3" r="1.28"/><circle cx="498.2" cy="112.1" r="1.28"/><circle cx="498.7" cy="115.8" r="1.28"/><circle cx="491.4" cy="108.6" r="1.28"/><circle cx="493" cy="116.8" r="1.28"/><circle cx="492.1" cy="128.7" r="1.28"/><circle cx="483.7" cy="117.8" r="1.28"/><circle cx="494.6" cy="118.7" r="1.28"/></g>
<g fill="#46AC12"><circle cx="469.9" cy="166.3" r="1.28"/><circle cx="472.8" cy="155.2" r="1.28"/><circle cx="475.9" cy="142.4" r="1.28"/><circle cx="468.2" cy="140.8" r="1.28"/><circle cx="463.7" cy="138" r="1.28"/><circle cx="452.5" cy="135.9" r="1.28"/><circle cx="451.9" cy="169.3" r="1.28"/><circle cx="448.8" cy="164.6" r="1.28"/><circle cx="453.8" cy="163.4" r="1.28"/><circle cx="451" cy="157.2" r="1.28"/></g>
<path d="M448.5 106.4 V169.3 H527" fill="none" stroke="#4a4a4a" stroke-width="1"/>
<path d="M487.8 169.3 v-1 M527 169.3 v-1" stroke="#4a4a4a" stroke-width="0.7"/>
<path d="M448.5 138 h1 M448.5 106.7 h1" stroke="#4a4a4a" stroke-width="0.7"/>
</g>
<g>
<g fill="#0470C4"><circle cx="115.9" cy="259.2" r="1.28"/><circle cx="105.4" cy="247.4" r="1.28"/><circle cx="106.9" cy="257.6" r="1.28"/><circle cx="104.4" cy="252" r="1.28"/><circle cx="102.3" cy="259.2" r="1.28"/><circle cx="100.2" cy="258.8" r="1.28"/><circle cx="98.6" cy="254" r="1.28"/><circle cx="97.1" cy="258.6" r="1.28"/><circle cx="92.3" cy="246.1" r="1.28"/><circle cx="89" cy="256.1" r="1.28"/></g>
<g fill="#F24A14"><circle cx="71.3" cy="235.7" r="1.28"/><circle cx="68" cy="237.9" r="1.28"/><circle cx="66.4" cy="240.7" r="1.28"/><circle cx="65.8" cy="243" r="1.28"/><circle cx="62.5" cy="252.4" r="1.28"/><circle cx="62.5" cy="252.2" r="1.28"/><circle cx="62.7" cy="248.4" r="1.28"/><circle cx="62.5" cy="240.1" r="1.28"/><circle cx="59.2" cy="248.7" r="1.28"/><circle cx="60.5" cy="249.6" r="1.28"/></g>
<g fill="#FCA812"><circle cx="95.7" cy="250.7" r="1.28"/><circle cx="90.9" cy="245.6" r="1.28"/><circle cx="92.3" cy="253.6" r="1.28"/><circle cx="92.3" cy="256.8" r="1.28"/><circle cx="92.3" cy="256.9" r="1.28"/><circle cx="79.6" cy="249.9" r="1.28"/><circle cx="74.5" cy="246.6" r="1.28"/><circle cx="75.6" cy="252.4" r="1.28"/><circle cx="72.5" cy="245.6" r="1.28"/><circle cx="73.3" cy="244.4" r="1.28"/></g>
<g fill="#8B1A98"><circle cx="58" cy="229.2" r="1.28"/><circle cx="59.4" cy="229" r="1.28"/><circle cx="61.2" cy="224.6" r="1.28"/><circle cx="59.5" cy="216.6" r="1.28"/><circle cx="58.6" cy="225.7" r="1.28"/><circle cx="55.8" cy="198.5" r="1.28"/><circle cx="53.9" cy="220.8" r="1.28"/><circle cx="50.1" cy="208.4" r="1.28"/><circle cx="49.8" cy="210.4" r="1.28"/><circle cx="45.1" cy="207.3" r="1.28"/></g>
<g fill="#46AC12"><circle cx="46.3" cy="213.4" r="1.28"/><circle cx="42.7" cy="196.9" r="1.28"/><circle cx="45.5" cy="217" r="1.28"/><circle cx="44.4" cy="222.5" r="1.28"/><circle cx="44.4" cy="217.2" r="1.28"/><circle cx="44.4" cy="218.4" r="1.28"/><circle cx="37.8" cy="222.3" r="1.28"/><circle cx="37.4" cy="233.4" r="1.28"/><circle cx="38.8" cy="223.9" r="1.28"/><circle cx="37.8" cy="226.8" r="1.28"/></g>
<path d="M37.4 196.3 V259.2 H115.9" fill="none" stroke="#4a4a4a" stroke-width="1"/>
<path d="M76.7 259.2 v-1 M115.9 259.2 v-1" stroke="#4a4a4a" stroke-width="0.7"/>
<path d="M37.4 227.9 h1 M37.4 196.6 h1" stroke="#4a4a4a" stroke-width="0.7"/>
</g>
<g>
<g fill="#0470C4"><circle cx="167.7" cy="259.2" r="1.28"/><circle cx="147.7" cy="247.4" r="1.28"/><circle cx="169.7" cy="257.6" r="1.28"/><circle cx="177.3" cy="252" r="1.28"/><circle cx="181.3" cy="259.2" r="1.28"/><circle cx="173.8" cy="258.8" r="1.28"/><circle cx="172" cy="254" r="1.28"/><circle cx="178.6" cy="258.6" r="1.28"/><circle cx="159.5" cy="246.1" r="1.28"/><circle cx="179.1" cy="256.1" r="1.28"/></g>
<g fill="#F24A14"><circle cx="201.4" cy="235.7" r="1.28"/><circle cx="209" cy="237.9" r="1.28"/><circle cx="211" cy="240.7" r="1.28"/><circle cx="218.7" cy="243" r="1.28"/><circle cx="174" cy="252.4" r="1.28"/><circle cx="182.5" cy="252.2" r="1.28"/><circle cx="194.1" cy="248.4" r="1.28"/><circle cx="201.2" cy="240.1" r="1.28"/><circle cx="179.4" cy="248.7" r="1.28"/><circle cx="182.8" cy="249.6" r="1.28"/></g>
<g fill="#FCA812"><circle cx="168.2" cy="250.7" r="1.28"/><circle cx="162" cy="245.6" r="1.28"/><circle cx="172.5" cy="253.6" r="1.28"/><circle cx="195.1" cy="256.8" r="1.28"/><circle cx="173.2" cy="256.9" r="1.28"/><circle cx="175.4" cy="249.9" r="1.28"/><circle cx="155.4" cy="246.6" r="1.28"/><circle cx="166.1" cy="252.4" r="1.28"/><circle cx="168.2" cy="245.6" r="1.28"/><circle cx="174.1" cy="244.4" r="1.28"/></g>
<g fill="#8B1A98"><circle cx="169.4" cy="229.2" r="1.28"/><circle cx="181.3" cy="229" r="1.28"/><circle cx="210.4" cy="224.6" r="1.28"/><circle cx="211.9" cy="216.6" r="1.28"/><circle cx="207.2" cy="225.7" r="1.28"/><circle cx="216.3" cy="198.5" r="1.28"/><circle cx="206.1" cy="220.8" r="1.28"/><circle cx="191.1" cy="208.4" r="1.28"/><circle cx="204.8" cy="210.4" r="1.28"/><circle cx="203.6" cy="207.3" r="1.28"/></g>
<g fill="#46AC12"><circle cx="144" cy="213.4" r="1.28"/><circle cx="157.9" cy="196.9" r="1.28"/><circle cx="174" cy="217" r="1.28"/><circle cx="175.9" cy="222.5" r="1.28"/><circle cx="179.4" cy="217.2" r="1.28"/><circle cx="182.1" cy="218.4" r="1.28"/><circle cx="140.2" cy="222.3" r="1.28"/><circle cx="146.1" cy="233.4" r="1.28"/><circle cx="147.6" cy="223.9" r="1.28"/><circle cx="155.4" cy="226.8" r="1.28"/></g>
<path d="M140.2 196.3 V259.2 H218.7" fill="none" stroke="#4a4a4a" stroke-width="1"/>
<path d="M179.4 259.2 v-1 M218.7 259.2 v-1" stroke="#4a4a4a" stroke-width="0.7"/>
<path d="M140.2 227.9 h1 M140.2 196.6 h1" stroke="#4a4a4a" stroke-width="0.7"/>
</g>
<g>
<path d="M243 197.5 L243.3 197 L243.6 196.8 L243.9 196.7 L244.2 196.7 L244.5 197 L244.8 197.7 L245.1 198.8 L245.4 200.2 L245.7 201.7 L246 203.3 L246.3 204.8 L246.6 206.4 L246.9 208.3 L247.2 210.4 L247.5 212.4 L247.8 214.5 L248.1 216.3 L248.4 217.9 L248.7 219.4 L249 220.9 L249.3 222.3 L249.6 223.7 L249.9 225.1 L250.2 226.4 L250.5 227.7 L250.8 229 L251.1 230.3 L251.4 231.4 L251.7 232.6 L252 233.7 L252.3 234.7 L252.6 235.7 L252.9 236.7 L253.2 237.6 L253.5 238.5 L253.8 239.4 L254.1 240.2 L254.4 241 L254.7 241.7 L255 242.4 L255.3 243 L255.6 243.7 L255.9 244.2 L256.2 244.8 L256.5 245.3 L256.8 245.9 L257.1 246.4 L257.4 246.9 L257.7 247.4 L258 247.9 L258.3 248.4 L258.6 248.9 L258.9 249.4 L259.2 249.9 L259.5 250.4 L259.8 250.9 L260.1 251.4 L260.4 251.9 L260.7 252.4 L261 252.9 L261.3 253.4 L261.6 253.8 L261.9 254.2 L262.2 254.6 L262.5 255 L262.8 255.3 L263.1 255.6 L263.4 255.9 L263.7 256.3 L264 256.5 L264.3 256.8 L264.6 257.1 L264.9 257.4 L265.2 257.6 L265.5 257.8 L265.8 258 L266.1 258.2 L266.4 258.3 L266.7 258.4 L267 258.6 L267.3 258.7 L267.6 258.8 L267.9 258.9 L268.2 259 L268.5 259 L268.8 259.1 L269.1 259.2 L269.4 259.2 L269.7 259.2 L269.7 259.2 L243 259.2 Z" fill="#006DD1" fill-opacity="0.9" stroke="none"/>
<path d="M243 197.5 L243.3 197 L243.6 196.8 L243.9 196.7 L244.2 196.7 L244.5 197 L244.8 197.7 L245.1 198.8 L245.4 200.2 L245.7 201.7 L246 203.3 L246.3 204.8 L246.6 206.4 L246.9 208.3 L247.2 210.4 L247.5 212.4 L247.8 214.5 L248.1 216.3 L248.4 217.9 L248.7 219.4 L249 220.9 L249.3 222.3 L249.6 223.7 L249.9 225.1 L250.2 226.4 L250.5 227.7 L250.8 229 L251.1 230.3 L251.4 231.4 L251.7 232.6 L252 233.7 L252.3 234.7 L252.6 235.7 L252.9 236.7 L253.2 237.6 L253.5 238.5 L253.8 239.4 L254.1 240.2 L254.4 241 L254.7 241.7 L255 242.4 L255.3 243 L255.6 243.7 L255.9 244.2 L256.2 244.8 L256.5 245.3 L256.8 245.9 L257.1 246.4 L257.4 246.9 L257.7 247.4 L258 247.9 L258.3 248.4 L258.6 248.9 L258.9 249.4 L259.2 249.9 L259.5 250.4 L259.8 250.9 L260.1 251.4 L260.4 251.9 L260.7 252.4 L261 252.9 L261.3 253.4 L261.6 253.8 L261.9 254.2 L262.2 254.6 L262.5 255 L262.8 255.3 L263.1 255.6 L263.4 255.9 L263.7 256.3 L264 256.5 L264.3 256.8 L264.6 257.1 L264.9 257.4 L265.2 257.6 L265.5 257.8 L265.8 258 L266.1 258.2 L266.4 258.3 L266.7 258.4 L267 258.6 L267.3 258.7 L267.6 258.8 L267.9 258.9 L268.2 259 L268.5 259 L268.8 259.1 L269.1 259.2 L269.4 259.2 L269.7 259.2" fill="none" stroke="#0a0a0a" stroke-width="0.9" stroke-linejoin="round"/>
<path d="M243 243.9 L243.5 243.3 L244 242.6 L244.4 242 L244.9 241.3 L245.4 240.7 L245.9 240.1 L246.3 239.5 L246.8 238.9 L247.3 238.3 L247.8 237.8 L248.2 237.2 L248.7 236.6 L249.2 236 L249.7 235.4 L250.1 234.8 L250.6 234.3 L251.1 233.8 L251.6 233.4 L252 233 L252.5 232.7 L253 232.4 L253.5 232.2 L254 231.9 L254.4 231.7 L254.9 231.4 L255.4 231.2 L255.9 231 L256.3 230.8 L256.8 230.7 L257.3 230.6 L257.8 230.5 L258.2 230.4 L258.7 230.4 L259.2 230.4 L259.7 230.4 L260.1 230.4 L260.6 230.4 L261.1 230.5 L261.6 230.5 L262.1 230.5 L262.5 230.5 L263 230.6 L263.5 230.7 L264 230.9 L264.4 231.2 L264.9 231.4 L265.4 231.7 L265.9 232.1 L266.3 232.6 L266.8 233.1 L267.3 233.6 L267.8 234.2 L268.2 234.8 L268.7 235.5 L269.2 236.3 L269.7 237.1 L270.1 237.9 L270.6 238.8 L271.1 239.7 L271.6 240.6 L272.1 241.6 L272.5 242.6 L273 243.6 L273.5 244.6 L274 245.5 L274.4 246.5 L274.9 247.4 L275.4 248.4 L275.9 249.3 L276.3 250.2 L276.8 251.1 L277.3 252 L277.8 252.8 L278.2 253.5 L278.7 254.2 L279.2 254.8 L279.7 255.4 L280.2 255.9 L280.6 256.4 L281.1 256.9 L281.6 257.2 L282.1 257.6 L282.5 257.9 L283 258.2 L283.5 258.5 L284 258.7 L284.4 258.9 L284.9 259.1 L285.4 259.2 L285.4 259.2 L243 259.2 Z" fill="#FF5912" fill-opacity="0.9" stroke="none"/>
<path d="M243 243.9 L243.5 243.3 L244 242.6 L244.4 242 L244.9 241.3 L245.4 240.7 L245.9 240.1 L246.3 239.5 L246.8 238.9 L247.3 238.3 L247.8 237.8 L248.2 237.2 L248.7 236.6 L249.2 236 L249.7 235.4 L250.1 234.8 L250.6 234.3 L251.1 233.8 L251.6 233.4 L252 233 L252.5 232.7 L253 232.4 L253.5 232.2 L254 231.9 L254.4 231.7 L254.9 231.4 L255.4 231.2 L255.9 231 L256.3 230.8 L256.8 230.7 L257.3 230.6 L257.8 230.5 L258.2 230.4 L258.7 230.4 L259.2 230.4 L259.7 230.4 L260.1 230.4 L260.6 230.4 L261.1 230.5 L261.6 230.5 L262.1 230.5 L262.5 230.5 L263 230.6 L263.5 230.7 L264 230.9 L264.4 231.2 L264.9 231.4 L265.4 231.7 L265.9 232.1 L266.3 232.6 L266.8 233.1 L267.3 233.6 L267.8 234.2 L268.2 234.8 L268.7 235.5 L269.2 236.3 L269.7 237.1 L270.1 237.9 L270.6 238.8 L271.1 239.7 L271.6 240.6 L272.1 241.6 L272.5 242.6 L273 243.6 L273.5 244.6 L274 245.5 L274.4 246.5 L274.9 247.4 L275.4 248.4 L275.9 249.3 L276.3 250.2 L276.8 251.1 L277.3 252 L277.8 252.8 L278.2 253.5 L278.7 254.2 L279.2 254.8 L279.7 255.4 L280.2 255.9 L280.6 256.4 L281.1 256.9 L281.6 257.2 L282.1 257.6 L282.5 257.9 L283 258.2 L283.5 258.5 L284 258.7 L284.4 258.9 L284.9 259.1 L285.4 259.2" fill="none" stroke="#0a0a0a" stroke-width="0.9" stroke-linejoin="round"/>
<path d="M243 242.4 L243.4 241.3 L243.7 240.2 L244.1 239.2 L244.4 238.1 L244.8 237.1 L245.1 236.1 L245.5 235.1 L245.8 234.2 L246.2 233.2 L246.5 232.3 L246.9 231.3 L247.2 230.4 L247.6 229.5 L247.9 228.6 L248.3 227.8 L248.6 227 L249 226.3 L249.4 225.6 L249.7 225 L250.1 224.4 L250.4 223.9 L250.8 223.3 L251.1 222.9 L251.5 222.4 L251.8 222 L252.2 221.6 L252.5 221.3 L252.9 221 L253.2 220.7 L253.6 220.4 L253.9 220.1 L254.3 219.9 L254.6 219.7 L255 219.6 L255.3 219.5 L255.7 219.6 L256.1 219.7 L256.4 219.9 L256.8 220.2 L257.1 220.5 L257.5 220.8 L257.8 221.2 L258.2 221.6 L258.5 222.1 L258.9 222.8 L259.2 223.6 L259.6 224.4 L259.9 225.3 L260.3 226.3 L260.6 227.2 L261 228.2 L261.3 229.3 L261.7 230.5 L262.1 231.6 L262.4 232.9 L262.8 234.1 L263.1 235.3 L263.5 236.6 L263.8 237.9 L264.2 239.3 L264.5 240.6 L264.9 241.9 L265.2 243.2 L265.6 244.5 L265.9 245.8 L266.3 247.1 L266.6 248.3 L267 249.5 L267.3 250.7 L267.7 251.7 L268 252.6 L268.4 253.5 L268.8 254.3 L269.1 255.1 L269.5 255.8 L269.8 256.4 L270.2 256.9 L270.5 257.3 L270.9 257.6 L271.2 258 L271.6 258.2 L271.9 258.5 L272.3 258.7 L272.6 258.8 L273 258.9 L273.3 259 L273.7 259.1 L274 259.2 L274.4 259.2 L274.4 259.2 L243 259.2 Z" fill="#F9A900" fill-opacity="0.9" stroke="none"/>
<path d="M243 242.4 L243.4 241.3 L243.7 240.2 L244.1 239.2 L244.4 238.1 L244.8 237.1 L245.1 236.1 L245.5 235.1 L245.8 234.2 L246.2 233.2 L246.5 232.3 L246.9 231.3 L247.2 230.4 L247.6 229.5 L247.9 228.6 L248.3 227.8 L248.6 227 L249 226.3 L249.4 225.6 L249.7 225 L250.1 224.4 L250.4 223.9 L250.8 223.3 L251.1 222.9 L251.5 222.4 L251.8 222 L252.2 221.6 L252.5 221.3 L252.9 221 L253.2 220.7 L253.6 220.4 L253.9 220.1 L254.3 219.9 L254.6 219.7 L255 219.6 L255.3 219.5 L255.7 219.6 L256.1 219.7 L256.4 219.9 L256.8 220.2 L257.1 220.5 L257.5 220.8 L257.8 221.2 L258.2 221.6 L258.5 222.1 L258.9 222.8 L259.2 223.6 L259.6 224.4 L259.9 225.3 L260.3 226.3 L260.6 227.2 L261 228.2 L261.3 229.3 L261.7 230.5 L262.1 231.6 L262.4 232.9 L262.8 234.1 L263.1 235.3 L263.5 236.6 L263.8 237.9 L264.2 239.3 L264.5 240.6 L264.9 241.9 L265.2 243.2 L265.6 244.5 L265.9 245.8 L266.3 247.1 L266.6 248.3 L267 249.5 L267.3 250.7 L267.7 251.7 L268 252.6 L268.4 253.5 L268.8 254.3 L269.1 255.1 L269.5 255.8 L269.8 256.4 L270.2 256.9 L270.5 257.3 L270.9 257.6 L271.2 258 L271.6 258.2 L271.9 258.5 L272.3 258.7 L272.6 258.8 L273 258.9 L273.3 259 L273.7 259.1 L274 259.2 L274.4 259.2" fill="none" stroke="#0a0a0a" stroke-width="0.9" stroke-linejoin="round"/>
<path d="M257.1 259.2 L257.9 259.1 L258.6 259 L259.3 258.8 L260 258.7 L260.7 258.5 L261.5 258.2 L262.2 257.9 L262.9 257.6 L263.6 257.3 L264.4 256.9 L265.1 256.6 L265.8 256.3 L266.5 255.9 L267.3 255.5 L268 255.1 L268.7 254.7 L269.4 254.2 L270.1 253.6 L270.9 253 L271.6 252.3 L272.3 251.7 L273 251 L273.8 250.3 L274.5 249.7 L275.2 249.1 L275.9 248.5 L276.7 248 L277.4 247.5 L278.1 247 L278.8 246.4 L279.6 245.9 L280.3 245.3 L281 244.6 L281.7 243.8 L282.4 243 L283.2 242.5 L283.9 242.3 L284.6 242.1 L285.3 241.9 L286.1 241.7 L286.8 241.6 L287.5 241.5 L288.2 241.3 L289 241.3 L289.7 241.2 L290.4 241.1 L291.1 241.1 L291.8 241.1 L292.6 241.1 L293.3 241.2 L294 241.2 L294.7 241.3 L295.5 241.4 L296.2 241.6 L296.9 241.7 L297.6 241.9 L298.4 242.1 L299.1 242.3 L299.8 242.5 L300.5 242.7 L301.2 242.9 L302 243.1 L302.7 243.4 L303.4 243.8 L304.1 244.2 L304.9 244.6 L305.6 245.1 L306.3 245.6 L307 246 L307.8 246.4 L308.5 246.7 L309.2 247 L309.9 247.4 L310.7 247.7 L311.4 248 L312.1 248.2 L312.8 248.5 L313.5 248.8 L314.3 249.1 L315 249.4 L315.7 249.7 L316.4 250 L317.2 250.2 L317.9 250.5 L318.6 250.8 L319.3 251.1 L320.1 251.3 L320.8 251.6 L321.5 251.9 L321.5 259.2 L257.1 259.2 Z" fill="#9A26AC" fill-opacity="0.9" stroke="none"/>
<path d="M257.1 259.2 L257.9 259.1 L258.6 259 L259.3 258.8 L260 258.7 L260.7 258.5 L261.5 258.2 L262.2 257.9 L262.9 257.6 L263.6 257.3 L264.4 256.9 L265.1 256.6 L265.8 256.3 L266.5 255.9 L267.3 255.5 L268 255.1 L268.7 254.7 L269.4 254.2 L270.1 253.6 L270.9 253 L271.6 252.3 L272.3 251.7 L273 251 L273.8 250.3 L274.5 249.7 L275.2 249.1 L275.9 248.5 L276.7 248 L277.4 247.5 L278.1 247 L278.8 246.4 L279.6 245.9 L280.3 245.3 L281 244.6 L281.7 243.8 L282.4 243 L283.2 242.5 L283.9 242.3 L284.6 242.1 L285.3 241.9 L286.1 241.7 L286.8 241.6 L287.5 241.5 L288.2 241.3 L289 241.3 L289.7 241.2 L290.4 241.1 L291.1 241.1 L291.8 241.1 L292.6 241.1 L293.3 241.2 L294 241.2 L294.7 241.3 L295.5 241.4 L296.2 241.6 L296.9 241.7 L297.6 241.9 L298.4 242.1 L299.1 242.3 L299.8 242.5 L300.5 242.7 L301.2 242.9 L302 243.1 L302.7 243.4 L303.4 243.8 L304.1 244.2 L304.9 244.6 L305.6 245.1 L306.3 245.6 L307 246 L307.8 246.4 L308.5 246.7 L309.2 247 L309.9 247.4 L310.7 247.7 L311.4 248 L312.1 248.2 L312.8 248.5 L313.5 248.8 L314.3 249.1 L315 249.4 L315.7 249.7 L316.4 250 L317.2 250.2 L317.9 250.5 L318.6 250.8 L319.3 251.1 L320.1 251.3 L320.8 251.6 L321.5 251.9" fill="none" stroke="#0a0a0a" stroke-width="0.9" stroke-linejoin="round"/>
<path d="M265 259.2 L265.6 259.2 L266.3 259.1 L266.9 258.9 L267.5 258.8 L268.2 258.5 L268.8 258.1 L269.4 257.7 L270.1 257.2 L270.7 256.7 L271.3 256.1 L272 255.5 L272.6 254.9 L273.2 254.1 L273.9 253.3 L274.5 252.5 L275.1 251.6 L275.8 250.8 L276.4 250 L277 249.3 L277.7 248.6 L278.3 247.8 L279 247 L279.6 246.2 L280.2 245.3 L280.9 244.3 L281.5 243.2 L282.1 241.8 L282.8 240 L283.4 237.8 L284 235.8 L284.7 233.9 L285.3 232.1 L285.9 230.3 L286.6 228.8 L287.2 227.5 L287.8 226.3 L288.5 225.2 L289.1 224.5 L289.7 223.9 L290.4 223.3 L291 222.9 L291.7 222.8 L292.3 222.9 L292.9 223.3 L293.6 223.9 L294.2 224.5 L294.8 225.5 L295.5 226.7 L296.1 228.2 L296.7 229.8 L297.4 231.6 L298 233.6 L298.6 235.6 L299.3 237.5 L299.9 239.4 L300.5 241.3 L301.2 243.2 L301.8 245 L302.4 246.8 L303.1 248.5 L303.7 250.1 L304.4 251.6 L305 253 L305.6 254.3 L306.3 255.3 L306.9 256.1 L307.5 256.9 L308.2 257.5 L308.8 258 L309.4 258.3 L310.1 258.5 L310.7 258.6 L311.3 258.7 L312 258.7 L312.6 258.6 L313.2 258.4 L313.9 258 L314.5 257.6 L315.1 257.1 L315.8 256.5 L316.4 256 L317.1 255.5 L317.7 254.8 L318.3 254.1 L319 253.5 L319.6 252.9 L320.2 252.3 L320.9 251.8 L321.5 251.4 L321.5 259.2 L265 259.2 Z" fill="#57B00C" fill-opacity="0.9" stroke="none"/>
<path d="M265 259.2 L265.6 259.2 L266.3 259.1 L266.9 258.9 L267.5 258.8 L268.2 258.5 L268.8 258.1 L269.4 257.7 L270.1 257.2 L270.7 256.7 L271.3 256.1 L272 255.5 L272.6 254.9 L273.2 254.1 L273.9 253.3 L274.5 252.5 L275.1 251.6 L275.8 250.8 L276.4 250 L277 249.3 L277.7 248.6 L278.3 247.8 L279 247 L279.6 246.2 L280.2 245.3 L280.9 244.3 L281.5 243.2 L282.1 241.8 L282.8 240 L283.4 237.8 L284 235.8 L284.7 233.9 L285.3 232.1 L285.9 230.3 L286.6 228.8 L287.2 227.5 L287.8 226.3 L288.5 225.2 L289.1 224.5 L289.7 223.9 L290.4 223.3 L291 222.9 L291.7 222.8 L292.3 222.9 L292.9 223.3 L293.6 223.9 L294.2 224.5 L294.8 225.5 L295.5 226.7 L296.1 228.2 L296.7 229.8 L297.4 231.6 L298 233.6 L298.6 235.6 L299.3 237.5 L299.9 239.4 L300.5 241.3 L301.2 243.2 L301.8 245 L302.4 246.8 L303.1 248.5 L303.7 250.1 L304.4 251.6 L305 253 L305.6 254.3 L306.3 255.3 L306.9 256.1 L307.5 256.9 L308.2 257.5 L308.8 258 L309.4 258.3 L310.1 258.5 L310.7 258.6 L311.3 258.7 L312 258.7 L312.6 258.6 L313.2 258.4 L313.9 258 L314.5 257.6 L315.1 257.1 L315.8 256.5 L316.4 256 L317.1 255.5 L317.7 254.8 L318.3 254.1 L319 253.5 L319.6 252.9 L320.2 252.3 L320.9 251.8 L321.5 251.4" fill="none" stroke="#0a0a0a" stroke-width="0.9" stroke-linejoin="round"/>
<path d="M243 196.3 V259.2 H321.5" fill="none" stroke="#4a4a4a" stroke-width="1"/>
<path d="M282.2 259.2 v-1 M321.5 259.2 v-1" stroke="#4a4a4a" stroke-width="0.7"/>
<path d="M243 207.3 h1" stroke="#4a4a4a" stroke-width="0.7"/>
</g>
<g>
<g fill="#0470C4"><circle cx="346" cy="259.2" r="1.28"/><circle cx="349.5" cy="247.4" r="1.28"/><circle cx="351" cy="257.6" r="1.28"/><circle cx="362.7" cy="252" r="1.28"/><circle cx="355.3" cy="259.2" r="1.28"/><circle cx="360.6" cy="258.8" r="1.28"/><circle cx="355" cy="254" r="1.28"/><circle cx="359.6" cy="258.6" r="1.28"/><circle cx="361.4" cy="246.1" r="1.28"/><circle cx="360.9" cy="256.1" r="1.28"/></g>
<g fill="#F24A14"><circle cx="374.7" cy="235.7" r="1.28"/><circle cx="381.8" cy="237.9" r="1.28"/><circle cx="378.4" cy="240.7" r="1.28"/><circle cx="387.6" cy="243" r="1.28"/><circle cx="368" cy="252.4" r="1.28"/><circle cx="374.7" cy="252.2" r="1.28"/><circle cx="372.9" cy="248.4" r="1.28"/><circle cx="379.5" cy="240.1" r="1.28"/><circle cx="373.7" cy="248.7" r="1.28"/><circle cx="375.2" cy="249.6" r="1.28"/></g>
<g fill="#FCA812"><circle cx="361.9" cy="250.7" r="1.28"/><circle cx="352.2" cy="245.6" r="1.28"/><circle cx="361.6" cy="253.6" r="1.28"/><circle cx="364.5" cy="256.8" r="1.28"/><circle cx="350.8" cy="256.9" r="1.28"/><circle cx="366.3" cy="249.9" r="1.28"/><circle cx="366" cy="246.6" r="1.28"/><circle cx="363.1" cy="252.4" r="1.28"/><circle cx="367.8" cy="245.6" r="1.28"/><circle cx="371.4" cy="244.4" r="1.28"/></g>
<g fill="#8B1A98"><circle cx="374.4" cy="229.2" r="1.28"/><circle cx="376.7" cy="229" r="1.28"/><circle cx="387.3" cy="224.6" r="1.28"/><circle cx="388.5" cy="216.6" r="1.28"/><circle cx="390.9" cy="225.7" r="1.28"/><circle cx="390.5" cy="198.5" r="1.28"/><circle cx="394.4" cy="220.8" r="1.28"/><circle cx="382" cy="208.4" r="1.28"/><circle cx="397.9" cy="210.4" r="1.28"/><circle cx="412" cy="207.3" r="1.28"/></g>
<g fill="#46AC12"><circle cx="399.1" cy="213.4" r="1.28"/><circle cx="403.8" cy="196.9" r="1.28"/><circle cx="399.1" cy="217" r="1.28"/><circle cx="408.5" cy="222.5" r="1.28"/><circle cx="393.7" cy="217.2" r="1.28"/><circle cx="395" cy="218.4" r="1.28"/><circle cx="416.8" cy="222.3" r="1.28"/><circle cx="420.4" cy="233.4" r="1.28"/><circle cx="412.7" cy="223.9" r="1.28"/><circle cx="424.1" cy="226.8" r="1.28"/></g>
<path d="M345.7 196.3 V259.2 H424.2" fill="none" stroke="#4a4a4a" stroke-width="1"/>
<path d="M384.9 259.2 v-1 M424.2 259.2 v-1" stroke="#4a4a4a" stroke-width="0.7"/>
<path d="M345.7 227.9 h1 M345.7 196.6 h1" stroke="#4a4a4a" stroke-width="0.7"/>
</g>
<g>
<g fill="#0470C4"><circle cx="526.8" cy="259.2" r="1.28"/><circle cx="519" cy="247.4" r="1.28"/><circle cx="522.8" cy="257.6" r="1.28"/><circle cx="515.5" cy="252" r="1.28"/><circle cx="525.5" cy="259.2" r="1.28"/><circle cx="523.3" cy="258.8" r="1.28"/><circle cx="518.8" cy="254" r="1.28"/><circle cx="522.8" cy="258.6" r="1.28"/><circle cx="514.9" cy="246.1" r="1.28"/><circle cx="519.2" cy="256.1" r="1.28"/></g>
<g fill="#F24A14"><circle cx="506.7" cy="235.7" r="1.28"/><circle cx="500.8" cy="237.9" r="1.28"/><circle cx="510.7" cy="240.7" r="1.28"/><circle cx="501.1" cy="243" r="1.28"/><circle cx="506.1" cy="252.4" r="1.28"/><circle cx="502.1" cy="252.2" r="1.28"/><circle cx="500.5" cy="248.4" r="1.28"/><circle cx="502.9" cy="240.1" r="1.28"/><circle cx="506.1" cy="248.7" r="1.28"/><circle cx="508.7" cy="249.6" r="1.28"/></g>
<g fill="#FCA812"><circle cx="514.9" cy="250.7" r="1.28"/><circle cx="510.9" cy="245.6" r="1.28"/><circle cx="517.2" cy="253.6" r="1.28"/><circle cx="523.4" cy="256.8" r="1.28"/><circle cx="521.3" cy="256.9" r="1.28"/><circle cx="513.2" cy="249.9" r="1.28"/><circle cx="505.6" cy="246.6" r="1.28"/><circle cx="512" cy="252.4" r="1.28"/><circle cx="503.1" cy="245.6" r="1.28"/><circle cx="504.6" cy="244.4" r="1.28"/></g>
<g fill="#8B1A98"><circle cx="492.9" cy="229.2" r="1.28"/><circle cx="493.7" cy="229" r="1.28"/><circle cx="494.7" cy="224.6" r="1.28"/><circle cx="498.2" cy="216.6" r="1.28"/><circle cx="498.7" cy="225.7" r="1.28"/><circle cx="491.4" cy="198.5" r="1.28"/><circle cx="493" cy="220.8" r="1.28"/><circle cx="492.1" cy="208.4" r="1.28"/><circle cx="483.7" cy="210.4" r="1.28"/><circle cx="494.6" cy="207.3" r="1.28"/></g>
<g fill="#46AC12"><circle cx="469.9" cy="213.4" r="1.28"/><circle cx="472.8" cy="196.9" r="1.28"/><circle cx="475.9" cy="217" r="1.28"/><circle cx="468.2" cy="222.5" r="1.28"/><circle cx="463.7" cy="217.2" r="1.28"/><circle cx="452.5" cy="218.4" r="1.28"/><circle cx="451.9" cy="222.3" r="1.28"/><circle cx="448.8" cy="233.4" r="1.28"/><circle cx="453.8" cy="223.9" r="1.28"/><circle cx="451" cy="226.8" r="1.28"/></g>
<path d="M448.5 196.3 V259.2 H527" fill="none" stroke="#4a4a4a" stroke-width="1"/>
<path d="M487.8 259.2 v-1 M527 259.2 v-1" stroke="#4a4a4a" stroke-width="0.7"/>
<path d="M448.5 227.9 h1 M448.5 196.6 h1" stroke="#4a4a4a" stroke-width="0.7"/>
</g>
<g>
<g fill="#0470C4"><circle cx="115.9" cy="348.8" r="1.28"/><circle cx="105.4" cy="346" r="1.28"/><circle cx="106.9" cy="344.8" r="1.28"/><circle cx="104.4" cy="335.6" r="1.28"/><circle cx="102.3" cy="341.5" r="1.28"/><circle cx="100.2" cy="337.2" r="1.28"/><circle cx="98.6" cy="341.7" r="1.28"/><circle cx="97.1" cy="338" r="1.28"/><circle cx="92.3" cy="336.6" r="1.28"/><circle cx="89" cy="337" r="1.28"/></g>
<g fill="#F24A14"><circle cx="71.3" cy="326" r="1.28"/><circle cx="68" cy="320.3" r="1.28"/><circle cx="66.4" cy="323" r="1.28"/><circle cx="65.8" cy="315.7" r="1.28"/><circle cx="62.5" cy="331.3" r="1.28"/><circle cx="62.5" cy="325.9" r="1.28"/><circle cx="62.7" cy="327.4" r="1.28"/><circle cx="62.5" cy="322.1" r="1.28"/><circle cx="59.2" cy="326.8" r="1.28"/><circle cx="60.5" cy="325.6" r="1.28"/></g>
<g fill="#FCA812"><circle cx="95.7" cy="336.1" r="1.28"/><circle cx="90.9" cy="343.9" r="1.28"/><circle cx="92.3" cy="336.4" r="1.28"/><circle cx="92.3" cy="334.1" r="1.28"/><circle cx="92.3" cy="345" r="1.28"/><circle cx="79.6" cy="332.6" r="1.28"/><circle cx="74.5" cy="332.9" r="1.28"/><circle cx="75.6" cy="335.2" r="1.28"/><circle cx="72.5" cy="331.4" r="1.28"/><circle cx="73.3" cy="328.6" r="1.28"/></g>
<g fill="#8B1A98"><circle cx="58" cy="326.2" r="1.28"/><circle cx="59.4" cy="324.4" r="1.28"/><circle cx="61.2" cy="315.9" r="1.28"/><circle cx="59.5" cy="315" r="1.28"/><circle cx="58.6" cy="313" r="1.28"/><circle cx="55.8" cy="313.4" r="1.28"/><circle cx="53.9" cy="310.3" r="1.28"/><circle cx="50.1" cy="320.1" r="1.28"/><circle cx="49.8" cy="307.5" r="1.28"/><circle cx="45.1" cy="296.2" r="1.28"/></g>
<g fill="#46AC12"><circle cx="46.3" cy="306.5" r="1.28"/><circle cx="42.7" cy="302.8" r="1.28"/><circle cx="45.5" cy="306.5" r="1.28"/><circle cx="44.4" cy="299" r="1.28"/><circle cx="44.4" cy="310.8" r="1.28"/><circle cx="44.4" cy="309.8" r="1.28"/><circle cx="37.8" cy="292.4" r="1.28"/><circle cx="37.4" cy="289.5" r="1.28"/><circle cx="38.8" cy="295.6" r="1.28"/><circle cx="37.8" cy="286.6" r="1.28"/></g>
<path d="M37.4 286.2 V349.1 H115.9" fill="none" stroke="#4a4a4a" stroke-width="1"/>
<path d="M76.7 349.1 v-1 M115.9 349.1 v-1" stroke="#4a4a4a" stroke-width="0.7"/>
<path d="M37.4 317.8 h1 M37.4 286.5 h1" stroke="#4a4a4a" stroke-width="0.7"/>
</g>
<g>
<g fill="#0470C4"><circle cx="167.7" cy="348.8" r="1.28"/><circle cx="147.7" cy="346" r="1.28"/><circle cx="169.7" cy="344.8" r="1.28"/><circle cx="177.3" cy="335.6" r="1.28"/><circle cx="181.3" cy="341.5" r="1.28"/><circle cx="173.8" cy="337.2" r="1.28"/><circle cx="172" cy="341.7" r="1.28"/><circle cx="178.6" cy="338" r="1.28"/><circle cx="159.5" cy="336.6" r="1.28"/><circle cx="179.1" cy="337" r="1.28"/></g>
<g fill="#F24A14"><circle cx="201.4" cy="326" r="1.28"/><circle cx="209" cy="320.3" r="1.28"/><circle cx="211" cy="323" r="1.28"/><circle cx="218.7" cy="315.7" r="1.28"/><circle cx="174" cy="331.3" r="1.28"/><circle cx="182.5" cy="325.9" r="1.28"/><circle cx="194.1" cy="327.4" r="1.28"/><circle cx="201.2" cy="322.1" r="1.28"/><circle cx="179.4" cy="326.8" r="1.28"/><circle cx="182.8" cy="325.6" r="1.28"/></g>
<g fill="#FCA812"><circle cx="168.2" cy="336.1" r="1.28"/><circle cx="162" cy="343.9" r="1.28"/><circle cx="172.5" cy="336.4" r="1.28"/><circle cx="195.1" cy="334.1" r="1.28"/><circle cx="173.2" cy="345" r="1.28"/><circle cx="175.4" cy="332.6" r="1.28"/><circle cx="155.4" cy="332.9" r="1.28"/><circle cx="166.1" cy="335.2" r="1.28"/><circle cx="168.2" cy="331.4" r="1.28"/><circle cx="174.1" cy="328.6" r="1.28"/></g>
<g fill="#8B1A98"><circle cx="169.4" cy="326.2" r="1.28"/><circle cx="181.3" cy="324.4" r="1.28"/><circle cx="210.4" cy="315.9" r="1.28"/><circle cx="211.9" cy="315" r="1.28"/><circle cx="207.2" cy="313" r="1.28"/><circle cx="216.3" cy="313.4" r="1.28"/><circle cx="206.1" cy="310.3" r="1.28"/><circle cx="191.1" cy="320.1" r="1.28"/><circle cx="204.8" cy="307.5" r="1.28"/><circle cx="203.6" cy="296.2" r="1.28"/></g>
<g fill="#46AC12"><circle cx="144" cy="306.5" r="1.28"/><circle cx="157.9" cy="302.8" r="1.28"/><circle cx="174" cy="306.5" r="1.28"/><circle cx="175.9" cy="299" r="1.28"/><circle cx="179.4" cy="310.8" r="1.28"/><circle cx="182.1" cy="309.8" r="1.28"/><circle cx="140.2" cy="292.4" r="1.28"/><circle cx="146.1" cy="289.5" r="1.28"/><circle cx="147.6" cy="295.6" r="1.28"/><circle cx="155.4" cy="286.6" r="1.28"/></g>
<path d="M140.2 286.2 V349.1 H218.7" fill="none" stroke="#4a4a4a" stroke-width="1"/>
<path d="M179.4 349.1 v-1 M218.7 349.1 v-1" stroke="#4a4a4a" stroke-width="0.7"/>
<path d="M140.2 317.8 h1 M140.2 286.5 h1" stroke="#4a4a4a" stroke-width="0.7"/>
</g>
<g>
<g fill="#0470C4"><circle cx="243" cy="348.8" r="1.28"/><circle cx="257.8" cy="346" r="1.28"/><circle cx="245" cy="344.8" r="1.28"/><circle cx="252" cy="335.6" r="1.28"/><circle cx="243" cy="341.5" r="1.28"/><circle cx="243.5" cy="337.2" r="1.28"/><circle cx="249.5" cy="341.7" r="1.28"/><circle cx="243.8" cy="338" r="1.28"/><circle cx="259.4" cy="336.6" r="1.28"/><circle cx="246.8" cy="337" r="1.28"/></g>
<g fill="#F24A14"><circle cx="272.4" cy="326" r="1.28"/><circle cx="269.7" cy="320.3" r="1.28"/><circle cx="266.2" cy="323" r="1.28"/><circle cx="263.3" cy="315.7" r="1.28"/><circle cx="251.6" cy="331.3" r="1.28"/><circle cx="251.8" cy="325.9" r="1.28"/><circle cx="256.6" cy="327.4" r="1.28"/><circle cx="266.9" cy="322.1" r="1.28"/><circle cx="256.1" cy="326.8" r="1.28"/><circle cx="255.1" cy="325.6" r="1.28"/></g>
<g fill="#FCA812"><circle cx="253.6" cy="336.1" r="1.28"/><circle cx="260.1" cy="343.9" r="1.28"/><circle cx="250.1" cy="336.4" r="1.28"/><circle cx="246" cy="334.1" r="1.28"/><circle cx="245.9" cy="345" r="1.28"/><circle cx="254.6" cy="332.6" r="1.28"/><circle cx="258.8" cy="332.9" r="1.28"/><circle cx="251.6" cy="335.2" r="1.28"/><circle cx="260.1" cy="331.4" r="1.28"/><circle cx="261.6" cy="328.6" r="1.28"/></g>
<g fill="#8B1A98"><circle cx="280.6" cy="326.2" r="1.28"/><circle cx="280.9" cy="324.4" r="1.28"/><circle cx="286.3" cy="315.9" r="1.28"/><circle cx="296.4" cy="315" r="1.28"/><circle cx="285" cy="313" r="1.28"/><circle cx="319.1" cy="313.4" r="1.28"/><circle cx="291.2" cy="310.3" r="1.28"/><circle cx="306.7" cy="320.1" r="1.28"/><circle cx="304.2" cy="307.5" r="1.28"/><circle cx="308.1" cy="296.2" r="1.28"/></g>
<g fill="#46AC12"><circle cx="300.5" cy="306.5" r="1.28"/><circle cx="321.2" cy="302.8" r="1.28"/><circle cx="295.9" cy="306.5" r="1.28"/><circle cx="289.1" cy="299" r="1.28"/><circle cx="295.7" cy="310.8" r="1.28"/><circle cx="294.2" cy="309.8" r="1.28"/><circle cx="289.3" cy="292.4" r="1.28"/><circle cx="275.3" cy="289.5" r="1.28"/><circle cx="287.3" cy="295.6" r="1.28"/><circle cx="283.6" cy="286.6" r="1.28"/></g>
<path d="M243 286.2 V349.1 H321.5" fill="none" stroke="#4a4a4a" stroke-width="1"/>
<path d="M282.2 349.1 v-1 M321.5 349.1 v-1" stroke="#4a4a4a" stroke-width="0.7"/>
<path d="M243 317.8 h1 M243 286.5 h1" stroke="#4a4a4a" stroke-width="0.7"/>
</g>
<g>
<path d="M345.7 324.2 L346 323.7 L346.3 323.3 L346.6 322.8 L346.9 322.3 L347.2 321.9 L347.5 321.4 L347.8 320.9 L348.1 320.5 L348.4 320 L348.7 319.5 L349 319.1 L349.3 318.6 L349.6 318.2 L349.9 317.7 L350.2 317.3 L350.5 316.8 L350.8 316.4 L351.1 315.9 L351.4 315.5 L351.7 315 L352 314.5 L352.3 314 L352.6 313.5 L352.9 313.1 L353.2 312.6 L353.5 312.1 L353.8 311.6 L354.1 311.1 L354.4 310.5 L354.7 310 L355 309.4 L355.3 308.8 L355.6 308.2 L355.9 307.5 L356.2 306.7 L356.5 305.9 L356.8 305.1 L357.1 304.3 L357.4 303.7 L357.7 303.1 L358 302.7 L358.3 302.3 L358.6 301.9 L358.9 301.6 L359.2 301.4 L359.5 301.4 L359.8 301.5 L360.1 301.8 L360.4 302.2 L360.7 302.6 L361 303.2 L361.3 303.9 L361.6 305.1 L361.9 306.5 L362.2 308.1 L362.5 309.7 L362.8 311.4 L363.1 313 L363.4 314.7 L363.7 316.6 L364 318.4 L364.3 320.4 L364.6 322.3 L364.9 324.1 L365.2 325.9 L365.5 327.6 L365.8 329.3 L366.1 331 L366.4 332.7 L366.7 334.3 L367 335.9 L367.3 337.3 L367.6 338.6 L367.9 339.7 L368.2 340.8 L368.5 341.9 L368.8 342.9 L369.1 343.8 L369.4 344.6 L369.7 345.3 L370 346 L370.3 346.5 L370.6 347 L370.9 347.5 L371.2 347.9 L371.5 348.3 L371.8 348.7 L372.1 348.9 L372.4 349.1 L372.4 349.1 L345.7 349.1 Z" fill="#006DD1" fill-opacity="0.9" stroke="none"/>
<path d="M345.7 324.2 L346 323.7 L346.3 323.3 L346.6 322.8 L346.9 322.3 L347.2 321.9 L347.5 321.4 L347.8 320.9 L348.1 320.5 L348.4 320 L348.7 319.5 L349 319.1 L349.3 318.6 L349.6 318.2 L349.9 317.7 L350.2 317.3 L350.5 316.8 L350.8 316.4 L351.1 315.9 L351.4 315.5 L351.7 315 L352 314.5 L352.3 314 L352.6 313.5 L352.9 313.1 L353.2 312.6 L353.5 312.1 L353.8 311.6 L354.1 311.1 L354.4 310.5 L354.7 310 L355 309.4 L355.3 308.8 L355.6 308.2 L355.9 307.5 L356.2 306.7 L356.5 305.9 L356.8 305.1 L357.1 304.3 L357.4 303.7 L357.7 303.1 L358 302.7 L358.3 302.3 L358.6 301.9 L358.9 301.6 L359.2 301.4 L359.5 301.4 L359.8 301.5 L360.1 301.8 L360.4 302.2 L360.7 302.6 L361 303.2 L361.3 303.9 L361.6 305.1 L361.9 306.5 L362.2 308.1 L362.5 309.7 L362.8 311.4 L363.1 313 L363.4 314.7 L363.7 316.6 L364 318.4 L364.3 320.4 L364.6 322.3 L364.9 324.1 L365.2 325.9 L365.5 327.6 L365.8 329.3 L366.1 331 L366.4 332.7 L366.7 334.3 L367 335.9 L367.3 337.3 L367.6 338.6 L367.9 339.7 L368.2 340.8 L368.5 341.9 L368.8 342.9 L369.1 343.8 L369.4 344.6 L369.7 345.3 L370 346 L370.3 346.5 L370.6 347 L370.9 347.5 L371.2 347.9 L371.5 348.3 L371.8 348.7 L372.1 348.9 L372.4 349.1" fill="none" stroke="#0a0a0a" stroke-width="0.9" stroke-linejoin="round"/>
<path d="M365.3 349.1 L365.7 349.1 L366 349 L366.3 348.9 L366.6 348.7 L367 348.5 L367.3 348.1 L367.6 347.2 L367.9 346 L368.3 344.5 L368.6 342.8 L368.9 340.9 L369.2 339 L369.6 336.6 L369.9 333.5 L370.2 329.9 L370.5 326 L370.9 321.8 L371.2 316.6 L371.5 311.6 L371.9 307.6 L372.2 304.1 L372.5 301 L372.8 298.3 L373.2 295.8 L373.5 293.5 L373.8 291.8 L374.1 290.7 L374.5 289.8 L374.8 289.2 L375.1 289.2 L375.4 289.5 L375.8 290.2 L376.1 291 L376.4 291.9 L376.7 293.3 L377.1 295.2 L377.4 297.2 L377.7 299.3 L378.1 301.2 L378.4 303.1 L378.7 305.1 L379 307 L379.4 309 L379.7 310.9 L380 312.8 L380.3 314.8 L380.7 316.6 L381 318.3 L381.3 319.9 L381.6 321.3 L382 322.6 L382.3 324 L382.6 325.3 L382.9 326.6 L383.3 327.8 L383.6 329.1 L383.9 330.3 L384.3 331.5 L384.6 332.6 L384.9 333.7 L385.2 334.7 L385.6 335.6 L385.9 336.6 L386.2 337.5 L386.5 338.3 L386.9 339.2 L387.2 340 L387.5 340.7 L387.8 341.5 L388.2 342.1 L388.5 342.8 L388.8 343.4 L389.1 344 L389.5 344.6 L389.8 345.2 L390.1 345.7 L390.5 346.2 L390.8 346.6 L391.1 346.9 L391.4 347.2 L391.8 347.5 L392.1 347.8 L392.4 348.1 L392.7 348.3 L393.1 348.6 L393.4 348.7 L393.7 348.9 L394 349 L394.4 349.1 L394.4 349.1 L365.3 349.1 Z" fill="#FF5912" fill-opacity="0.9" stroke="none"/>
<path d="M365.3 349.1 L365.7 349.1 L366 349 L366.3 348.9 L366.6 348.7 L367 348.5 L367.3 348.1 L367.6 347.2 L367.9 346 L368.3 344.5 L368.6 342.8 L368.9 340.9 L369.2 339 L369.6 336.6 L369.9 333.5 L370.2 329.9 L370.5 326 L370.9 321.8 L371.2 316.6 L371.5 311.6 L371.9 307.6 L372.2 304.1 L372.5 301 L372.8 298.3 L373.2 295.8 L373.5 293.5 L373.8 291.8 L374.1 290.7 L374.5 289.8 L374.8 289.2 L375.1 289.2 L375.4 289.5 L375.8 290.2 L376.1 291 L376.4 291.9 L376.7 293.3 L377.1 295.2 L377.4 297.2 L377.7 299.3 L378.1 301.2 L378.4 303.1 L378.7 305.1 L379 307 L379.4 309 L379.7 310.9 L380 312.8 L380.3 314.8 L380.7 316.6 L381 318.3 L381.3 319.9 L381.6 321.3 L382 322.6 L382.3 324 L382.6 325.3 L382.9 326.6 L383.3 327.8 L383.6 329.1 L383.9 330.3 L384.3 331.5 L384.6 332.6 L384.9 333.7 L385.2 334.7 L385.6 335.6 L385.9 336.6 L386.2 337.5 L386.5 338.3 L386.9 339.2 L387.2 340 L387.5 340.7 L387.8 341.5 L388.2 342.1 L388.5 342.8 L388.8 343.4 L389.1 344 L389.5 344.6 L389.8 345.2 L390.1 345.7 L390.5 346.2 L390.8 346.6 L391.1 346.9 L391.4 347.2 L391.8 347.5 L392.1 347.8 L392.4 348.1 L392.7 348.3 L393.1 348.6 L393.4 348.7 L393.7 348.9 L394 349 L394.4 349.1" fill="none" stroke="#0a0a0a" stroke-width="0.9" stroke-linejoin="round"/>
<path d="M345.7 343 L346.1 341.4 L346.5 339.8 L346.9 338.2 L347.3 336.7 L347.6 335.2 L348 333.8 L348.4 332.3 L348.8 330.7 L349.2 329.2 L349.6 327.8 L350 326.7 L350.4 325.9 L350.7 325.5 L351.1 325.2 L351.5 325.5 L351.9 326.2 L352.3 327.2 L352.7 328.4 L353.1 329.6 L353.5 331 L353.8 332.7 L354.2 334.5 L354.6 336.3 L355 337.8 L355.4 339 L355.8 340.1 L356.2 340.5 L356.6 340.1 L357 339 L357.3 337.5 L357.7 335.9 L358.1 333.8 L358.5 330.9 L358.9 327.5 L359.3 324 L359.7 320.4 L360.1 316.5 L360.4 312.5 L360.8 308.6 L361.2 305 L361.6 301.6 L362 298.3 L362.4 295.3 L362.8 293 L363.2 290.9 L363.6 288.9 L363.9 287.4 L364.3 286.7 L364.7 287 L365.1 287.9 L365.5 289.3 L365.9 290.9 L366.3 292.8 L366.7 295.4 L367 298.5 L367.4 301.7 L367.8 304.7 L368.2 307.8 L368.6 311 L369 314 L369.4 317 L369.8 319.8 L370.1 322.6 L370.5 325.3 L370.9 327.6 L371.3 329.8 L371.7 331.8 L372.1 333.7 L372.5 335.4 L372.9 336.9 L373.3 338.5 L373.6 339.9 L374 341.2 L374.4 342.4 L374.8 343.4 L375.2 344.2 L375.6 345 L376 345.6 L376.4 346.3 L376.7 346.9 L377.1 347.4 L377.5 347.8 L377.9 348.1 L378.3 348.4 L378.7 348.6 L379.1 348.8 L379.5 349 L379.9 349.1 L380.2 349.1 L380.2 349.1 L345.7 349.1 Z" fill="#F9A900" fill-opacity="0.9" stroke="none"/>
<path d="M345.7 343 L346.1 341.4 L346.5 339.8 L346.9 338.2 L347.3 336.7 L347.6 335.2 L348 333.8 L348.4 332.3 L348.8 330.7 L349.2 329.2 L349.6 327.8 L350 326.7 L350.4 325.9 L350.7 325.5 L351.1 325.2 L351.5 325.5 L351.9 326.2 L352.3 327.2 L352.7 328.4 L353.1 329.6 L353.5 331 L353.8 332.7 L354.2 334.5 L354.6 336.3 L355 337.8 L355.4 339 L355.8 340.1 L356.2 340.5 L356.6 340.1 L357 339 L357.3 337.5 L357.7 335.9 L358.1 333.8 L358.5 330.9 L358.9 327.5 L359.3 324 L359.7 320.4 L360.1 316.5 L360.4 312.5 L360.8 308.6 L361.2 305 L361.6 301.6 L362 298.3 L362.4 295.3 L362.8 293 L363.2 290.9 L363.6 288.9 L363.9 287.4 L364.3 286.7 L364.7 287 L365.1 287.9 L365.5 289.3 L365.9 290.9 L366.3 292.8 L366.7 295.4 L367 298.5 L367.4 301.7 L367.8 304.7 L368.2 307.8 L368.6 311 L369 314 L369.4 317 L369.8 319.8 L370.1 322.6 L370.5 325.3 L370.9 327.6 L371.3 329.8 L371.7 331.8 L372.1 333.7 L372.5 335.4 L372.9 336.9 L373.3 338.5 L373.6 339.9 L374 341.2 L374.4 342.4 L374.8 343.4 L375.2 344.2 L375.6 345 L376 345.6 L376.4 346.3 L376.7 346.9 L377.1 347.4 L377.5 347.8 L377.9 348.1 L378.3 348.4 L378.7 348.6 L379.1 348.8 L379.5 349 L379.9 349.1 L380.2 349.1" fill="none" stroke="#0a0a0a" stroke-width="0.9" stroke-linejoin="round"/>
<path d="M361.4 349.1 L362.1 349.1 L362.8 348.9 L363.5 348.8 L364.2 348.5 L364.9 348 L365.6 347.4 L366.3 346.6 L367 345.7 L367.8 344.7 L368.5 343.8 L369.2 342.8 L369.9 341.5 L370.6 340.1 L371.3 338.7 L372 337.4 L372.7 336.2 L373.4 335.1 L374.1 334.1 L374.8 333.1 L375.5 332.1 L376.2 331.2 L376.9 330.4 L377.6 329.7 L378.3 329 L379 328.3 L379.7 327.7 L380.5 326.9 L381.2 326.1 L381.9 325.2 L382.6 324.3 L383.3 323.4 L384 322.6 L384.7 321.9 L385.4 321.2 L386.1 320.5 L386.8 320.1 L387.5 319.8 L388.2 319.5 L388.9 319.4 L389.6 319.3 L390.3 319.5 L391 320.3 L391.7 321.2 L392.4 322.1 L393.2 323.2 L393.9 324.5 L394.6 325.8 L395.3 327.1 L396 328.6 L396.7 329.9 L397.4 331.3 L398.1 332.6 L398.8 333.9 L399.5 335.2 L400.2 336.3 L400.9 337.2 L401.6 338.1 L402.3 338.9 L403 339.7 L403.7 340.3 L404.4 340.9 L405.1 341.3 L405.9 341.7 L406.6 342.1 L407.3 342.5 L408 342.7 L408.7 342.8 L409.4 342.8 L410.1 342.9 L410.8 342.9 L411.5 342.9 L412.2 343 L412.9 343 L413.6 343.2 L414.3 343.4 L415 343.6 L415.7 343.8 L416.4 344 L417.1 344.3 L417.8 344.5 L418.6 344.8 L419.3 345.1 L420 345.4 L420.7 345.7 L421.4 346 L422.1 346.2 L422.8 346.5 L423.5 346.8 L424.2 347.1 L424.2 349.1 L361.4 349.1 Z" fill="#9A26AC" fill-opacity="0.9" stroke="none"/>
<path d="M361.4 349.1 L362.1 349.1 L362.8 348.9 L363.5 348.8 L364.2 348.5 L364.9 348 L365.6 347.4 L366.3 346.6 L367 345.7 L367.8 344.7 L368.5 343.8 L369.2 342.8 L369.9 341.5 L370.6 340.1 L371.3 338.7 L372 337.4 L372.7 336.2 L373.4 335.1 L374.1 334.1 L374.8 333.1 L375.5 332.1 L376.2 331.2 L376.9 330.4 L377.6 329.7 L378.3 329 L379 328.3 L379.7 327.7 L380.5 326.9 L381.2 326.1 L381.9 325.2 L382.6 324.3 L383.3 323.4 L384 322.6 L384.7 321.9 L385.4 321.2 L386.1 320.5 L386.8 320.1 L387.5 319.8 L388.2 319.5 L388.9 319.4 L389.6 319.3 L390.3 319.5 L391 320.3 L391.7 321.2 L392.4 322.1 L393.2 323.2 L393.9 324.5 L394.6 325.8 L395.3 327.1 L396 328.6 L396.7 329.9 L397.4 331.3 L398.1 332.6 L398.8 333.9 L399.5 335.2 L400.2 336.3 L400.9 337.2 L401.6 338.1 L402.3 338.9 L403 339.7 L403.7 340.3 L404.4 340.9 L405.1 341.3 L405.9 341.7 L406.6 342.1 L407.3 342.5 L408 342.7 L408.7 342.8 L409.4 342.8 L410.1 342.9 L410.8 342.9 L411.5 342.9 L412.2 343 L412.9 343 L413.6 343.2 L414.3 343.4 L415 343.6 L415.7 343.8 L416.4 344 L417.1 344.3 L417.8 344.5 L418.6 344.8 L419.3 345.1 L420 345.4 L420.7 345.7 L421.4 346 L422.1 346.2 L422.8 346.5 L423.5 346.8 L424.2 347.1" fill="none" stroke="#0a0a0a" stroke-width="0.9" stroke-linejoin="round"/>
<path d="M375.5 349.1 L376.1 349.1 L376.6 349 L377.2 349 L377.7 348.9 L378.3 348.8 L378.8 348.6 L379.4 348.3 L379.9 347.9 L380.5 347.4 L381 346.9 L381.5 346.3 L382.1 345.7 L382.6 345.1 L383.2 344.6 L383.7 344 L384.3 343.4 L384.8 342.8 L385.4 342.2 L385.9 341.6 L386.5 340.9 L387 340.2 L387.6 339.6 L388.1 338.9 L388.7 338.1 L389.2 337.4 L389.7 336.6 L390.3 335.7 L390.8 334.9 L391.4 334.2 L391.9 333.5 L392.5 332.8 L393 332.2 L393.6 331.5 L394.1 330.9 L394.7 330.3 L395.2 329.8 L395.8 329.4 L396.3 329.1 L396.9 328.8 L397.4 328.6 L398 328.4 L398.5 328.2 L399 328 L399.6 327.9 L400.1 327.8 L400.7 327.7 L401.2 327.7 L401.8 327.6 L402.3 327.6 L402.9 327.5 L403.4 327.5 L404 327.5 L404.5 327.5 L405.1 327.5 L405.6 327.5 L406.2 327.6 L406.7 327.7 L407.2 327.8 L407.8 327.9 L408.3 328.1 L408.9 328.2 L409.4 328.3 L410 328.4 L410.5 328.6 L411.1 328.7 L411.6 328.9 L412.2 329.1 L412.7 329.3 L413.3 329.5 L413.8 329.7 L414.4 329.9 L414.9 330.2 L415.5 330.5 L416 330.8 L416.5 331.1 L417.1 331.4 L417.6 331.8 L418.2 332.1 L418.7 332.5 L419.3 332.9 L419.8 333.2 L420.4 333.6 L420.9 334.1 L421.5 334.5 L422 335 L422.6 335.5 L423.1 335.9 L423.7 336.4 L424.2 337 L424.2 349.1 L375.5 349.1 Z" fill="#57B00C" fill-opacity="0.9" stroke="none"/>
<path d="M375.5 349.1 L376.1 349.1 L376.6 349 L377.2 349 L377.7 348.9 L378.3 348.8 L378.8 348.6 L379.4 348.3 L379.9 347.9 L380.5 347.4 L381 346.9 L381.5 346.3 L382.1 345.7 L382.6 345.1 L383.2 344.6 L383.7 344 L384.3 343.4 L384.8 342.8 L385.4 342.2 L385.9 341.6 L386.5 340.9 L387 340.2 L387.6 339.6 L388.1 338.9 L388.7 338.1 L389.2 337.4 L389.7 336.6 L390.3 335.7 L390.8 334.9 L391.4 334.2 L391.9 333.5 L392.5 332.8 L393 332.2 L393.6 331.5 L394.1 330.9 L394.7 330.3 L395.2 329.8 L395.8 329.4 L396.3 329.1 L396.9 328.8 L397.4 328.6 L398 328.4 L398.5 328.2 L399 328 L399.6 327.9 L400.1 327.8 L400.7 327.7 L401.2 327.7 L401.8 327.6 L402.3 327.6 L402.9 327.5 L403.4 327.5 L404 327.5 L404.5 327.5 L405.1 327.5 L405.6 327.5 L406.2 327.6 L406.7 327.7 L407.2 327.8 L407.8 327.9 L408.3 328.1 L408.9 328.2 L409.4 328.3 L410 328.4 L410.5 328.6 L411.1 328.7 L411.6 328.9 L412.2 329.1 L412.7 329.3 L413.3 329.5 L413.8 329.7 L414.4 329.9 L414.9 330.2 L415.5 330.5 L416 330.8 L416.5 331.1 L417.1 331.4 L417.6 331.8 L418.2 332.1 L418.7 332.5 L419.3 332.9 L419.8 333.2 L420.4 333.6 L420.9 334.1 L421.5 334.5 L422 335 L422.6 335.5 L423.1 335.9 L423.7 336.4 L424.2 337" fill="none" stroke="#0a0a0a" stroke-width="0.9" stroke-linejoin="round"/>
<path d="M345.7 286.2 V349.1 H424.2" fill="none" stroke="#4a4a4a" stroke-width="1"/>
<path d="M384.9 349.1 v-1 M424.2 349.1 v-1" stroke="#4a4a4a" stroke-width="0.7"/>
<path d="M345.7 297 h1" stroke="#4a4a4a" stroke-width="0.7"/>
</g>
<g>
<g fill="#0470C4"><circle cx="526.8" cy="348.8" r="1.28"/><circle cx="519" cy="346" r="1.28"/><circle cx="522.8" cy="344.8" r="1.28"/><circle cx="515.5" cy="335.6" r="1.28"/><circle cx="525.5" cy="341.5" r="1.28"/><circle cx="523.3" cy="337.2" r="1.28"/><circle cx="518.8" cy="341.7" r="1.28"/><circle cx="522.8" cy="338" r="1.28"/><circle cx="514.9" cy="336.6" r="1.28"/><circle cx="519.2" cy="337" r="1.28"/></g>
<g fill="#F24A14"><circle cx="506.7" cy="326" r="1.28"/><circle cx="500.8" cy="320.3" r="1.28"/><circle cx="510.7" cy="323" r="1.28"/><circle cx="501.1" cy="315.7" r="1.28"/><circle cx="506.1" cy="331.3" r="1.28"/><circle cx="502.1" cy="325.9" r="1.28"/><circle cx="500.5" cy="327.4" r="1.28"/><circle cx="502.9" cy="322.1" r="1.28"/><circle cx="506.1" cy="326.8" r="1.28"/><circle cx="508.7" cy="325.6" r="1.28"/></g>
<g fill="#FCA812"><circle cx="514.9" cy="336.1" r="1.28"/><circle cx="510.9" cy="343.9" r="1.28"/><circle cx="517.2" cy="336.4" r="1.28"/><circle cx="523.4" cy="334.1" r="1.28"/><circle cx="521.3" cy="345" r="1.28"/><circle cx="513.2" cy="332.6" r="1.28"/><circle cx="505.6" cy="332.9" r="1.28"/><circle cx="512" cy="335.2" r="1.28"/><circle cx="503.1" cy="331.4" r="1.28"/><circle cx="504.6" cy="328.6" r="1.28"/></g>
<g fill="#8B1A98"><circle cx="492.9" cy="326.2" r="1.28"/><circle cx="493.7" cy="324.4" r="1.28"/><circle cx="494.7" cy="315.9" r="1.28"/><circle cx="498.2" cy="315" r="1.28"/><circle cx="498.7" cy="313" r="1.28"/><circle cx="491.4" cy="313.4" r="1.28"/><circle cx="493" cy="310.3" r="1.28"/><circle cx="492.1" cy="320.1" r="1.28"/><circle cx="483.7" cy="307.5" r="1.28"/><circle cx="494.6" cy="296.2" r="1.28"/></g>
<g fill="#46AC12"><circle cx="469.9" cy="306.5" r="1.28"/><circle cx="472.8" cy="302.8" r="1.28"/><circle cx="475.9" cy="306.5" r="1.28"/><circle cx="468.2" cy="299" r="1.28"/><circle cx="463.7" cy="310.8" r="1.28"/><circle cx="452.5" cy="309.8" r="1.28"/><circle cx="451.9" cy="292.4" r="1.28"/><circle cx="448.8" cy="289.5" r="1.28"/><circle cx="453.8" cy="295.6" r="1.28"/><circle cx="451" cy="286.6" r="1.28"/></g>
<path d="M448.5 286.2 V349.1 H527" fill="none" stroke="#4a4a4a" stroke-width="1"/>
<path d="M487.8 349.1 v-1 M527 349.1 v-1" stroke="#4a4a4a" stroke-width="0.7"/>
<path d="M448.5 317.8 h1 M448.5 286.5 h1" stroke="#4a4a4a" stroke-width="0.7"/>
</g>
<g>
<g fill="#0470C4"><circle cx="115.9" cy="376.6" r="1.28"/><circle cx="105.4" cy="382.8" r="1.28"/><circle cx="106.9" cy="379.8" r="1.28"/><circle cx="104.4" cy="385.5" r="1.28"/><circle cx="102.3" cy="377.6" r="1.28"/><circle cx="100.2" cy="379.3" r="1.28"/><circle cx="98.6" cy="383" r="1.28"/><circle cx="97.1" cy="379.8" r="1.28"/><circle cx="92.3" cy="386" r="1.28"/><circle cx="89" cy="382.6" r="1.28"/></g>
<g fill="#F24A14"><circle cx="71.3" cy="392.6" r="1.28"/><circle cx="68" cy="397.3" r="1.28"/><circle cx="66.4" cy="389.4" r="1.28"/><circle cx="65.8" cy="397.1" r="1.28"/><circle cx="62.5" cy="393.1" r="1.28"/><circle cx="62.5" cy="396.2" r="1.28"/><circle cx="62.7" cy="397.6" r="1.28"/><circle cx="62.5" cy="395.6" r="1.28"/><circle cx="59.2" cy="393.1" r="1.28"/><circle cx="60.5" cy="391" r="1.28"/></g>
<g fill="#FCA812"><circle cx="95.7" cy="386" r="1.28"/><circle cx="90.9" cy="389.2" r="1.28"/><circle cx="92.3" cy="384.2" r="1.28"/><circle cx="92.3" cy="379.3" r="1.28"/><circle cx="92.3" cy="381" r="1.28"/><circle cx="79.6" cy="387.4" r="1.28"/><circle cx="74.5" cy="393.4" r="1.28"/><circle cx="75.6" cy="388.4" r="1.28"/><circle cx="72.5" cy="395.4" r="1.28"/><circle cx="73.3" cy="394.2" r="1.28"/></g>
<g fill="#8B1A98"><circle cx="58" cy="403.6" r="1.28"/><circle cx="59.4" cy="402.9" r="1.28"/><circle cx="61.2" cy="402.2" r="1.28"/><circle cx="59.5" cy="399.4" r="1.28"/><circle cx="58.6" cy="398.9" r="1.28"/><circle cx="55.8" cy="404.8" r="1.28"/><circle cx="53.9" cy="403.5" r="1.28"/><circle cx="50.1" cy="404.3" r="1.28"/><circle cx="49.8" cy="411" r="1.28"/><circle cx="45.1" cy="402.3" r="1.28"/></g>
<g fill="#46AC12"><circle cx="46.3" cy="422" r="1.28"/><circle cx="42.7" cy="419.6" r="1.28"/><circle cx="45.5" cy="417.2" r="1.28"/><circle cx="44.4" cy="423.3" r="1.28"/><circle cx="44.4" cy="426.9" r="1.28"/><circle cx="44.4" cy="435.8" r="1.28"/><circle cx="37.8" cy="436.3" r="1.28"/><circle cx="37.4" cy="438.7" r="1.28"/><circle cx="38.8" cy="434.8" r="1.28"/><circle cx="37.8" cy="437" r="1.28"/></g>
<path d="M37.4 376.1 V439 H115.9" fill="none" stroke="#4a4a4a" stroke-width="1"/>
<path d="M76.7 439 v-1 M115.9 439 v-1" stroke="#4a4a4a" stroke-width="0.7"/>
<path d="M37.4 407.7 h1 M37.4 376.4 h1" stroke="#4a4a4a" stroke-width="0.7"/>
</g>
<g>
<g fill="#0470C4"><circle cx="167.7" cy="376.6" r="1.28"/><circle cx="147.7" cy="382.8" r="1.28"/><circle cx="169.7" cy="379.8" r="1.28"/><circle cx="177.3" cy="385.5" r="1.28"/><circle cx="181.3" cy="377.6" r="1.28"/><circle cx="173.8" cy="379.3" r="1.28"/><circle cx="172" cy="383" r="1.28"/><circle cx="178.6" cy="379.8" r="1.28"/><circle cx="159.5" cy="386" r="1.28"/><circle cx="179.1" cy="382.6" r="1.28"/></g>
<g fill="#F24A14"><circle cx="201.4" cy="392.6" r="1.28"/><circle cx="209" cy="397.3" r="1.28"/><circle cx="211" cy="389.4" r="1.28"/><circle cx="218.7" cy="397.1" r="1.28"/><circle cx="174" cy="393.1" r="1.28"/><circle cx="182.5" cy="396.2" r="1.28"/><circle cx="194.1" cy="397.6" r="1.28"/><circle cx="201.2" cy="395.6" r="1.28"/><circle cx="179.4" cy="393.1" r="1.28"/><circle cx="182.8" cy="391" r="1.28"/></g>
<g fill="#FCA812"><circle cx="168.2" cy="386" r="1.28"/><circle cx="162" cy="389.2" r="1.28"/><circle cx="172.5" cy="384.2" r="1.28"/><circle cx="195.1" cy="379.3" r="1.28"/><circle cx="173.2" cy="381" r="1.28"/><circle cx="175.4" cy="387.4" r="1.28"/><circle cx="155.4" cy="393.4" r="1.28"/><circle cx="166.1" cy="388.4" r="1.28"/><circle cx="168.2" cy="395.4" r="1.28"/><circle cx="174.1" cy="394.2" r="1.28"/></g>
<g fill="#8B1A98"><circle cx="169.4" cy="403.6" r="1.28"/><circle cx="181.3" cy="402.9" r="1.28"/><circle cx="210.4" cy="402.2" r="1.28"/><circle cx="211.9" cy="399.4" r="1.28"/><circle cx="207.2" cy="398.9" r="1.28"/><circle cx="216.3" cy="404.8" r="1.28"/><circle cx="206.1" cy="403.5" r="1.28"/><circle cx="191.1" cy="404.3" r="1.28"/><circle cx="204.8" cy="411" r="1.28"/><circle cx="203.6" cy="402.3" r="1.28"/></g>
<g fill="#46AC12"><circle cx="144" cy="422" r="1.28"/><circle cx="157.9" cy="419.6" r="1.28"/><circle cx="174" cy="417.2" r="1.28"/><circle cx="175.9" cy="423.3" r="1.28"/><circle cx="179.4" cy="426.9" r="1.28"/><circle cx="182.1" cy="435.8" r="1.28"/><circle cx="140.2" cy="436.3" r="1.28"/><circle cx="146.1" cy="438.7" r="1.28"/><circle cx="147.6" cy="434.8" r="1.28"/><circle cx="155.4" cy="437" r="1.28"/></g>
<path d="M140.2 376.1 V439 H218.7" fill="none" stroke="#4a4a4a" stroke-width="1"/>
<path d="M179.4 439 v-1 M218.7 439 v-1" stroke="#4a4a4a" stroke-width="0.7"/>
<path d="M140.2 407.7 h1 M140.2 376.4 h1" stroke="#4a4a4a" stroke-width="0.7"/>
</g>
<g>
<g fill="#0470C4"><circle cx="243" cy="376.6" r="1.28"/><circle cx="257.8" cy="382.8" r="1.28"/><circle cx="245" cy="379.8" r="1.28"/><circle cx="252" cy="385.5" r="1.28"/><circle cx="243" cy="377.6" r="1.28"/><circle cx="243.5" cy="379.3" r="1.28"/><circle cx="249.5" cy="383" r="1.28"/><circle cx="243.8" cy="379.8" r="1.28"/><circle cx="259.4" cy="386" r="1.28"/><circle cx="246.8" cy="382.6" r="1.28"/></g>
<g fill="#F24A14"><circle cx="272.4" cy="392.6" r="1.28"/><circle cx="269.7" cy="397.3" r="1.28"/><circle cx="266.2" cy="389.4" r="1.28"/><circle cx="263.3" cy="397.1" r="1.28"/><circle cx="251.6" cy="393.1" r="1.28"/><circle cx="251.8" cy="396.2" r="1.28"/><circle cx="256.6" cy="397.6" r="1.28"/><circle cx="266.9" cy="395.6" r="1.28"/><circle cx="256.1" cy="393.1" r="1.28"/><circle cx="255.1" cy="391" r="1.28"/></g>
<g fill="#FCA812"><circle cx="253.6" cy="386" r="1.28"/><circle cx="260.1" cy="389.2" r="1.28"/><circle cx="250.1" cy="384.2" r="1.28"/><circle cx="246" cy="379.3" r="1.28"/><circle cx="245.9" cy="381" r="1.28"/><circle cx="254.6" cy="387.4" r="1.28"/><circle cx="258.8" cy="393.4" r="1.28"/><circle cx="251.6" cy="388.4" r="1.28"/><circle cx="260.1" cy="395.4" r="1.28"/><circle cx="261.6" cy="394.2" r="1.28"/></g>
<g fill="#8B1A98"><circle cx="280.6" cy="403.6" r="1.28"/><circle cx="280.9" cy="402.9" r="1.28"/><circle cx="286.3" cy="402.2" r="1.28"/><circle cx="296.4" cy="399.4" r="1.28"/><circle cx="285" cy="398.9" r="1.28"/><circle cx="319.1" cy="404.8" r="1.28"/><circle cx="291.2" cy="403.5" r="1.28"/><circle cx="306.7" cy="404.3" r="1.28"/><circle cx="304.2" cy="411" r="1.28"/><circle cx="308.1" cy="402.3" r="1.28"/></g>
<g fill="#46AC12"><circle cx="300.5" cy="422" r="1.28"/><circle cx="321.2" cy="419.6" r="1.28"/><circle cx="295.9" cy="417.2" r="1.28"/><circle cx="289.1" cy="423.3" r="1.28"/><circle cx="295.7" cy="426.9" r="1.28"/><circle cx="294.2" cy="435.8" r="1.28"/><circle cx="289.3" cy="436.3" r="1.28"/><circle cx="275.3" cy="438.7" r="1.28"/><circle cx="287.3" cy="434.8" r="1.28"/><circle cx="283.6" cy="437" r="1.28"/></g>
<path d="M243 376.1 V439 H321.5" fill="none" stroke="#4a4a4a" stroke-width="1"/>
<path d="M282.2 439 v-1 M321.5 439 v-1" stroke="#4a4a4a" stroke-width="0.7"/>
<path d="M243 407.7 h1 M243 376.4 h1" stroke="#4a4a4a" stroke-width="0.7"/>
</g>
<g>
<g fill="#0470C4"><circle cx="346" cy="376.6" r="1.28"/><circle cx="349.5" cy="382.8" r="1.28"/><circle cx="351" cy="379.8" r="1.28"/><circle cx="362.7" cy="385.5" r="1.28"/><circle cx="355.3" cy="377.6" r="1.28"/><circle cx="360.6" cy="379.3" r="1.28"/><circle cx="355" cy="383" r="1.28"/><circle cx="359.6" cy="379.8" r="1.28"/><circle cx="361.4" cy="386" r="1.28"/><circle cx="360.9" cy="382.6" r="1.28"/></g>
<g fill="#F24A14"><circle cx="374.7" cy="392.6" r="1.28"/><circle cx="381.8" cy="397.3" r="1.28"/><circle cx="378.4" cy="389.4" r="1.28"/><circle cx="387.6" cy="397.1" r="1.28"/><circle cx="368" cy="393.1" r="1.28"/><circle cx="374.7" cy="396.2" r="1.28"/><circle cx="372.9" cy="397.6" r="1.28"/><circle cx="379.5" cy="395.6" r="1.28"/><circle cx="373.7" cy="393.1" r="1.28"/><circle cx="375.2" cy="391" r="1.28"/></g>
<g fill="#FCA812"><circle cx="361.9" cy="386" r="1.28"/><circle cx="352.2" cy="389.2" r="1.28"/><circle cx="361.6" cy="384.2" r="1.28"/><circle cx="364.5" cy="379.3" r="1.28"/><circle cx="350.8" cy="381" r="1.28"/><circle cx="366.3" cy="387.4" r="1.28"/><circle cx="366" cy="393.4" r="1.28"/><circle cx="363.1" cy="388.4" r="1.28"/><circle cx="367.8" cy="395.4" r="1.28"/><circle cx="371.4" cy="394.2" r="1.28"/></g>
<g fill="#8B1A98"><circle cx="374.4" cy="403.6" r="1.28"/><circle cx="376.7" cy="402.9" r="1.28"/><circle cx="387.3" cy="402.2" r="1.28"/><circle cx="388.5" cy="399.4" r="1.28"/><circle cx="390.9" cy="398.9" r="1.28"/><circle cx="390.5" cy="404.8" r="1.28"/><circle cx="394.4" cy="403.5" r="1.28"/><circle cx="382" cy="404.3" r="1.28"/><circle cx="397.9" cy="411" r="1.28"/><circle cx="412" cy="402.3" r="1.28"/></g>
<g fill="#46AC12"><circle cx="399.1" cy="422" r="1.28"/><circle cx="403.8" cy="419.6" r="1.28"/><circle cx="399.1" cy="417.2" r="1.28"/><circle cx="408.5" cy="423.3" r="1.28"/><circle cx="393.7" cy="426.9" r="1.28"/><circle cx="395" cy="435.8" r="1.28"/><circle cx="416.8" cy="436.3" r="1.28"/><circle cx="420.4" cy="438.7" r="1.28"/><circle cx="412.7" cy="434.8" r="1.28"/><circle cx="424.1" cy="437" r="1.28"/></g>
<path d="M345.7 376.1 V439 H424.2" fill="none" stroke="#4a4a4a" stroke-width="1"/>
<path d="M384.9 439 v-1 M424.2 439 v-1" stroke="#4a4a4a" stroke-width="0.7"/>
<path d="M345.7 407.7 h1 M345.7 376.4 h1" stroke="#4a4a4a" stroke-width="0.7"/>
</g>
<g>
<path d="M505 439 L505.3 439 L505.5 439 L505.8 439 L506 438.9 L506.3 438.9 L506.5 438.9 L506.7 438.9 L507 438.8 L507.2 438.8 L507.5 438.7 L507.7 438.6 L508 438.5 L508.2 438.4 L508.5 438.2 L508.7 438 L509 437.8 L509.2 437.5 L509.5 437.3 L509.7 437 L510 436.7 L510.2 436.4 L510.5 436.1 L510.7 435.8 L510.9 435.4 L511.2 434.9 L511.4 434.5 L511.7 433.9 L511.9 433.4 L512.2 432.8 L512.4 432.2 L512.7 431.5 L512.9 430.9 L513.2 430.2 L513.4 429.4 L513.7 428.6 L513.9 427.7 L514.2 426.8 L514.4 425.8 L514.7 424.8 L514.9 423.7 L515.1 422.4 L515.4 420.9 L515.6 419.6 L515.9 418.4 L516.1 417.4 L516.4 416.4 L516.6 415.5 L516.9 414.7 L517.1 413.9 L517.4 413.3 L517.6 412.7 L517.9 412.1 L518.1 411.5 L518.4 411 L518.6 410.6 L518.9 410.2 L519.1 409.9 L519.3 409.7 L519.6 409.5 L519.8 409.4 L520.1 409.2 L520.3 409.1 L520.6 409 L520.8 408.8 L521.1 408.8 L521.3 408.7 L521.6 408.7 L521.8 408.7 L522.1 408.7 L522.3 408.9 L522.6 409.1 L522.8 409.3 L523 409.6 L523.3 409.9 L523.5 410.3 L523.8 410.7 L524 411.1 L524.3 411.6 L524.5 412.3 L524.8 413.1 L525 413.9 L525.3 414.7 L525.5 415.5 L525.8 416.3 L526 417.2 L526.3 418.1 L526.5 419 L526.8 419.9 L527 420.9 L527 439 L505 439 Z" fill="#006DD1" fill-opacity="0.9" stroke="none"/>
<path d="M505 439 L505.3 439 L505.5 439 L505.8 439 L506 438.9 L506.3 438.9 L506.5 438.9 L506.7 438.9 L507 438.8 L507.2 438.8 L507.5 438.7 L507.7 438.6 L508 438.5 L508.2 438.4 L508.5 438.2 L508.7 438 L509 437.8 L509.2 437.5 L509.5 437.3 L509.7 437 L510 436.7 L510.2 436.4 L510.5 436.1 L510.7 435.8 L510.9 435.4 L511.2 434.9 L511.4 434.5 L511.7 433.9 L511.9 433.4 L512.2 432.8 L512.4 432.2 L512.7 431.5 L512.9 430.9 L513.2 430.2 L513.4 429.4 L513.7 428.6 L513.9 427.7 L514.2 426.8 L514.4 425.8 L514.7 424.8 L514.9 423.7 L515.1 422.4 L515.4 420.9 L515.6 419.6 L515.9 418.4 L516.1 417.4 L516.4 416.4 L516.6 415.5 L516.9 414.7 L517.1 413.9 L517.4 413.3 L517.6 412.7 L517.9 412.1 L518.1 411.5 L518.4 411 L518.6 410.6 L518.9 410.2 L519.1 409.9 L519.3 409.7 L519.6 409.5 L519.8 409.4 L520.1 409.2 L520.3 409.1 L520.6 409 L520.8 408.8 L521.1 408.8 L521.3 408.7 L521.6 408.7 L521.8 408.7 L522.1 408.7 L522.3 408.9 L522.6 409.1 L522.8 409.3 L523 409.6 L523.3 409.9 L523.5 410.3 L523.8 410.7 L524 411.1 L524.3 411.6 L524.5 412.3 L524.8 413.1 L525 413.9 L525.3 414.7 L525.5 415.5 L525.8 416.3 L526 417.2 L526.3 418.1 L526.5 419 L526.8 419.9 L527 420.9" fill="none" stroke="#0a0a0a" stroke-width="0.9" stroke-linejoin="round"/>
<path d="M495.6 439 L495.8 439 L496.1 438.9 L496.3 438.9 L496.6 438.8 L496.8 438.7 L497.1 438.6 L497.3 438.3 L497.6 437.9 L497.8 437.2 L498.1 436.3 L498.3 435.2 L498.6 434 L498.8 432.6 L499.1 430.3 L499.3 427.2 L499.6 423.8 L499.8 420.5 L500 417.9 L500.3 415.9 L500.5 414.2 L500.8 412.6 L501 411.3 L501.3 410.2 L501.5 409.3 L501.8 408.4 L502 407.7 L502.3 407.1 L502.5 406.7 L502.8 406.6 L503 406.4 L503.3 406.3 L503.5 406.3 L503.7 406.2 L504 406.2 L504.2 406.4 L504.5 406.7 L504.7 407.1 L505 407.6 L505.2 408.1 L505.5 408.6 L505.7 409.2 L506 410 L506.2 410.8 L506.5 411.8 L506.7 412.7 L507 413.7 L507.2 414.7 L507.5 415.6 L507.7 416.6 L507.9 417.6 L508.2 418.6 L508.4 419.6 L508.7 420.6 L508.9 421.5 L509.2 422.3 L509.4 423.1 L509.7 423.9 L509.9 424.7 L510.2 425.5 L510.4 426.2 L510.7 427 L510.9 427.7 L511.2 428.5 L511.4 429.2 L511.7 429.9 L511.9 430.6 L512.1 431.3 L512.4 431.9 L512.6 432.5 L512.9 433 L513.1 433.6 L513.4 434.1 L513.6 434.5 L513.9 435 L514.1 435.4 L514.4 435.8 L514.6 436.2 L514.9 436.6 L515.1 436.9 L515.4 437.2 L515.6 437.4 L515.9 437.7 L516.1 437.9 L516.3 438.2 L516.6 438.4 L516.8 438.6 L517.1 438.7 L517.3 438.9 L517.6 439 L517.6 439 L495.6 439 Z" fill="#FF5912" fill-opacity="0.9" stroke="none"/>
<path d="M495.6 439 L495.8 439 L496.1 438.9 L496.3 438.9 L496.6 438.8 L496.8 438.7 L497.1 438.6 L497.3 438.3 L497.6 437.9 L497.8 437.2 L498.1 436.3 L498.3 435.2 L498.6 434 L498.8 432.6 L499.1 430.3 L499.3 427.2 L499.6 423.8 L499.8 420.5 L500 417.9 L500.3 415.9 L500.5 414.2 L500.8 412.6 L501 411.3 L501.3 410.2 L501.5 409.3 L501.8 408.4 L502 407.7 L502.3 407.1 L502.5 406.7 L502.8 406.6 L503 406.4 L503.3 406.3 L503.5 406.3 L503.7 406.2 L504 406.2 L504.2 406.4 L504.5 406.7 L504.7 407.1 L505 407.6 L505.2 408.1 L505.5 408.6 L505.7 409.2 L506 410 L506.2 410.8 L506.5 411.8 L506.7 412.7 L507 413.7 L507.2 414.7 L507.5 415.6 L507.7 416.6 L507.9 417.6 L508.2 418.6 L508.4 419.6 L508.7 420.6 L508.9 421.5 L509.2 422.3 L509.4 423.1 L509.7 423.9 L509.9 424.7 L510.2 425.5 L510.4 426.2 L510.7 427 L510.9 427.7 L511.2 428.5 L511.4 429.2 L511.7 429.9 L511.9 430.6 L512.1 431.3 L512.4 431.9 L512.6 432.5 L512.9 433 L513.1 433.6 L513.4 434.1 L513.6 434.5 L513.9 435 L514.1 435.4 L514.4 435.8 L514.6 436.2 L514.9 436.6 L515.1 436.9 L515.4 437.2 L515.6 437.4 L515.9 437.7 L516.1 437.9 L516.3 438.2 L516.6 438.4 L516.8 438.6 L517.1 438.7 L517.3 438.9 L517.6 439" fill="none" stroke="#0a0a0a" stroke-width="0.9" stroke-linejoin="round"/>
<path d="M495.6 439 L496 439 L496.3 439 L496.7 438.9 L497 438.9 L497.4 438.8 L497.7 438.7 L498.1 438.6 L498.4 438.5 L498.8 438.3 L499.1 437.7 L499.5 437 L499.8 436 L500.2 435 L500.5 434.1 L500.9 433.3 L501.2 432.6 L501.6 432 L502 431.4 L502.3 430.7 L502.7 430.2 L503 429.6 L503.4 429.1 L503.7 428.7 L504.1 428.2 L504.4 427.8 L504.8 427.4 L505.1 427 L505.5 426.6 L505.8 426.3 L506.2 425.9 L506.5 425.6 L506.9 425.3 L507.2 425.1 L507.6 424.8 L507.9 424.6 L508.3 424.3 L508.7 424.1 L509 423.9 L509.4 423.7 L509.7 423.5 L510.1 423.3 L510.4 423.2 L510.8 423 L511.1 422.8 L511.5 422.7 L511.8 422.6 L512.2 422.5 L512.5 422.5 L512.9 422.6 L513.2 422.6 L513.6 422.7 L513.9 422.8 L514.3 422.9 L514.7 423 L515 423.1 L515.4 423.3 L515.7 423.4 L516.1 423.5 L516.4 423.8 L516.8 424 L517.1 424.3 L517.5 424.6 L517.8 424.9 L518.2 425.2 L518.5 425.5 L518.9 425.8 L519.2 426.1 L519.6 426.4 L519.9 426.8 L520.3 427.1 L520.6 427.5 L521 427.9 L521.4 428.2 L521.7 428.6 L522.1 429 L522.4 429.3 L522.8 429.7 L523.1 430 L523.5 430.4 L523.8 430.7 L524.2 431 L524.5 431.4 L524.9 431.8 L525.2 432.1 L525.6 432.5 L525.9 432.9 L526.3 433.2 L526.6 433.6 L527 434 L527 439 L495.6 439 Z" fill="#F9A900" fill-opacity="0.9" stroke="none"/>
<path d="M495.6 439 L496 439 L496.3 439 L496.7 438.9 L497 438.9 L497.4 438.8 L497.7 438.7 L498.1 438.6 L498.4 438.5 L498.8 438.3 L499.1 437.7 L499.5 437 L499.8 436 L500.2 435 L500.5 434.1 L500.9 433.3 L501.2 432.6 L501.6 432 L502 431.4 L502.3 430.7 L502.7 430.2 L503 429.6 L503.4 429.1 L503.7 428.7 L504.1 428.2 L504.4 427.8 L504.8 427.4 L505.1 427 L505.5 426.6 L505.8 426.3 L506.2 425.9 L506.5 425.6 L506.9 425.3 L507.2 425.1 L507.6 424.8 L507.9 424.6 L508.3 424.3 L508.7 424.1 L509 423.9 L509.4 423.7 L509.7 423.5 L510.1 423.3 L510.4 423.2 L510.8 423 L511.1 422.8 L511.5 422.7 L511.8 422.6 L512.2 422.5 L512.5 422.5 L512.9 422.6 L513.2 422.6 L513.6 422.7 L513.9 422.8 L514.3 422.9 L514.7 423 L515 423.1 L515.4 423.3 L515.7 423.4 L516.1 423.5 L516.4 423.8 L516.8 424 L517.1 424.3 L517.5 424.6 L517.8 424.9 L518.2 425.2 L518.5 425.5 L518.9 425.8 L519.2 426.1 L519.6 426.4 L519.9 426.8 L520.3 427.1 L520.6 427.5 L521 427.9 L521.4 428.2 L521.7 428.6 L522.1 429 L522.4 429.3 L522.8 429.7 L523.1 430 L523.5 430.4 L523.8 430.7 L524.2 431 L524.5 431.4 L524.9 431.8 L525.2 432.1 L525.6 432.5 L525.9 432.9 L526.3 433.2 L526.6 433.6 L527 434" fill="none" stroke="#0a0a0a" stroke-width="0.9" stroke-linejoin="round"/>
<path d="M479.9 439 L480.2 439 L480.4 439 L480.7 438.9 L481 438.9 L481.2 438.8 L481.5 438.7 L481.8 438.5 L482 437.7 L482.3 435.7 L482.5 433.3 L482.8 431.1 L483.1 428.5 L483.3 426.8 L483.6 427.2 L483.9 429.4 L484.1 431.9 L484.4 433.6 L484.7 435.3 L484.9 436.8 L485.2 437.9 L485.5 438.3 L485.7 438.4 L486 438.5 L486.3 438.6 L486.5 438.7 L486.8 438.8 L487 438.8 L487.3 438.9 L487.6 438.9 L487.8 438.9 L488.1 438.8 L488.4 438.7 L488.6 438.5 L488.9 438.3 L489.2 438 L489.4 437.3 L489.7 435.8 L490 433.8 L490.2 431.3 L490.5 428.5 L490.7 425.2 L491 420.3 L491.3 414.6 L491.5 408.7 L491.8 401.8 L492.1 394.8 L492.3 389.2 L492.6 384.2 L492.9 379.7 L493.1 376.9 L493.4 377 L493.7 379.2 L493.9 382.7 L494.2 386.6 L494.5 391.8 L494.7 398.4 L495 404.7 L495.2 410 L495.5 415.1 L495.8 418.8 L496 420.7 L496.3 422.1 L496.6 422.5 L496.8 421.6 L497.1 419.9 L497.4 418.4 L497.6 416.9 L497.9 415.6 L498.2 415.2 L498.4 415.9 L498.7 417.4 L499 419.1 L499.2 421.4 L499.5 424.5 L499.7 427.4 L500 429.9 L500.3 432.4 L500.5 434.4 L500.8 435.6 L501.1 436.6 L501.3 437.4 L501.6 437.9 L501.9 438.2 L502.1 438.4 L502.4 438.6 L502.7 438.8 L502.9 438.9 L503.2 439 L503.4 439 L503.4 439 L479.9 439 Z" fill="#9A26AC" fill-opacity="0.9" stroke="none"/>
<path d="M479.9 439 L480.2 439 L480.4 439 L480.7 438.9 L481 438.9 L481.2 438.8 L481.5 438.7 L481.8 438.5 L482 437.7 L482.3 435.7 L482.5 433.3 L482.8 431.1 L483.1 428.5 L483.3 426.8 L483.6 427.2 L483.9 429.4 L484.1 431.9 L484.4 433.6 L484.7 435.3 L484.9 436.8 L485.2 437.9 L485.5 438.3 L485.7 438.4 L486 438.5 L486.3 438.6 L486.5 438.7 L486.8 438.8 L487 438.8 L487.3 438.9 L487.6 438.9 L487.8 438.9 L488.1 438.8 L488.4 438.7 L488.6 438.5 L488.9 438.3 L489.2 438 L489.4 437.3 L489.7 435.8 L490 433.8 L490.2 431.3 L490.5 428.5 L490.7 425.2 L491 420.3 L491.3 414.6 L491.5 408.7 L491.8 401.8 L492.1 394.8 L492.3 389.2 L492.6 384.2 L492.9 379.7 L493.1 376.9 L493.4 377 L493.7 379.2 L493.9 382.7 L494.2 386.6 L494.5 391.8 L494.7 398.4 L495 404.7 L495.2 410 L495.5 415.1 L495.8 418.8 L496 420.7 L496.3 422.1 L496.6 422.5 L496.8 421.6 L497.1 419.9 L497.4 418.4 L497.6 416.9 L497.9 415.6 L498.2 415.2 L498.4 415.9 L498.7 417.4 L499 419.1 L499.2 421.4 L499.5 424.5 L499.7 427.4 L500 429.9 L500.3 432.4 L500.5 434.4 L500.8 435.6 L501.1 436.6 L501.3 437.4 L501.6 437.9 L501.9 438.2 L502.1 438.4 L502.4 438.6 L502.7 438.8 L502.9 438.9 L503.2 439 L503.4 439" fill="none" stroke="#0a0a0a" stroke-width="0.9" stroke-linejoin="round"/>
<path d="M448.5 430.4 L449 430.2 L449.5 429.9 L450 429.7 L450.5 429.5 L451 429.3 L451.5 429.1 L452 429 L452.5 428.9 L452.9 428.8 L453.4 428.8 L453.9 428.8 L454.4 428.8 L454.9 428.8 L455.4 428.8 L455.9 428.8 L456.4 428.8 L456.9 428.8 L457.4 428.8 L457.9 428.8 L458.4 428.8 L458.9 428.8 L459.4 428.8 L459.9 428.8 L460.4 428.9 L460.8 428.9 L461.3 428.9 L461.8 429 L462.3 429.1 L462.8 429.1 L463.3 429.2 L463.8 429.3 L464.3 429.3 L464.8 429.4 L465.3 429.5 L465.8 429.6 L466.3 429.7 L466.8 429.8 L467.3 429.9 L467.8 430 L468.3 430.1 L468.8 430.2 L469.2 430.4 L469.7 430.5 L470.2 430.7 L470.7 430.8 L471.2 431 L471.7 431.1 L472.2 431.3 L472.7 431.5 L473.2 431.7 L473.7 431.9 L474.2 432.2 L474.7 432.4 L475.2 432.6 L475.7 432.9 L476.2 433.1 L476.7 433.3 L477.1 433.6 L477.6 433.8 L478.1 434.1 L478.6 434.3 L479.1 434.6 L479.6 434.8 L480.1 435.1 L480.6 435.3 L481.1 435.6 L481.6 435.8 L482.1 436 L482.6 436.3 L483.1 436.6 L483.6 436.8 L484.1 437 L484.6 437.3 L485.1 437.5 L485.5 437.7 L486 437.8 L486.5 438 L487 438.2 L487.5 438.3 L488 438.5 L488.5 438.6 L489 438.7 L489.5 438.8 L490 438.8 L490.5 438.9 L491 438.9 L491.5 439 L492 439 L492.5 439 L492.5 439 L448.5 439 Z" fill="#57B00C" fill-opacity="0.9" stroke="none"/>
<path d="M448.5 430.4 L449 430.2 L449.5 429.9 L450 429.7 L450.5 429.5 L451 429.3 L451.5 429.1 L452 429 L452.5 428.9 L452.9 428.8 L453.4 428.8 L453.9 428.8 L454.4 428.8 L454.9 428.8 L455.4 428.8 L455.9 428.8 L456.4 428.8 L456.9 428.8 L457.4 428.8 L457.9 428.8 L458.4 428.8 L458.9 428.8 L459.4 428.8 L459.9 428.8 L460.4 428.9 L460.8 428.9 L461.3 428.9 L461.8 429 L462.3 429.1 L462.8 429.1 L463.3 429.2 L463.8 429.3 L464.3 429.3 L464.8 429.4 L465.3 429.5 L465.8 429.6 L466.3 429.7 L466.8 429.8 L467.3 429.9 L467.8 430 L468.3 430.1 L468.8 430.2 L469.2 430.4 L469.7 430.5 L470.2 430.7 L470.7 430.8 L471.2 431 L471.7 431.1 L472.2 431.3 L472.7 431.5 L473.2 431.7 L473.7 431.9 L474.2 432.2 L474.7 432.4 L475.2 432.6 L475.7 432.9 L476.2 433.1 L476.7 433.3 L477.1 433.6 L477.6 433.8 L478.1 434.1 L478.6 434.3 L479.1 434.6 L479.6 434.8 L480.1 435.1 L480.6 435.3 L481.1 435.6 L481.6 435.8 L482.1 436 L482.6 436.3 L483.1 436.6 L483.6 436.8 L484.1 437 L484.6 437.3 L485.1 437.5 L485.5 437.7 L486 437.8 L486.5 438 L487 438.2 L487.5 438.3 L488 438.5 L488.5 438.6 L489 438.7 L489.5 438.8 L490 438.8 L490.5 438.9 L491 438.9 L491.5 439 L492 439 L492.5 439" fill="none" stroke="#0a0a0a" stroke-width="0.9" stroke-linejoin="round"/>
<path d="M448.5 376.1 V439 H527" fill="none" stroke="#4a4a4a" stroke-width="1"/>
<path d="M487.8 439 v-1 M527 439 v-1" stroke="#4a4a4a" stroke-width="0.7"/>
<path d="M448.5 414 h1 M448.5 389 h1" stroke="#4a4a4a" stroke-width="0.7"/>
</g>
<g font-size="11" fill="#262626" stroke="#262626" stroke-width="0.2">
<text x="37.5" y="93.8" text-anchor="middle">0</text>
<text x="76.7" y="93.8" text-anchor="middle">0.5</text>
<text x="115.3" y="93.8" text-anchor="middle">1</text>
<text x="34.7" y="84.1" text-anchor="end">0</text>
<text x="34.7" y="42" text-anchor="end">5</text>
<text x="140.3" y="93.8" text-anchor="middle">0</text>
<text x="179.4" y="93.8" text-anchor="middle">0.5</text>
<text x="218.1" y="93.8" text-anchor="middle">1</text>
<text x="137.5" y="84.1" text-anchor="end">0</text>
<text x="137.5" y="52.8" text-anchor="end">0.5</text>
<text x="137.5" y="21.5" text-anchor="end">1</text>
<text x="243.1" y="93.8" text-anchor="middle">0</text>
<text x="282.2" y="93.8" text-anchor="middle">0.5</text>
<text x="320.9" y="93.8" text-anchor="middle">1</text>
<text x="240.3" y="84.1" text-anchor="end">0</text>
<text x="240.3" y="52.8" text-anchor="end">0.5</text>
<text x="240.3" y="21.5" text-anchor="end">1</text>
<text x="345.8" y="93.8" text-anchor="middle">0</text>
<text x="384.9" y="93.8" text-anchor="middle">0.5</text>
<text x="423.6" y="93.8" text-anchor="middle">1</text>
<text x="343" y="84.1" text-anchor="end">0</text>
<text x="343" y="52.8" text-anchor="end">0.5</text>
<text x="343" y="21.5" text-anchor="end">1</text>
<text x="448.6" y="93.8" text-anchor="middle">0</text>
<text x="487.8" y="93.8" text-anchor="middle">0.5</text>
<text x="526.4" y="93.8" text-anchor="middle">1</text>
<text x="445.8" y="84.1" text-anchor="end">0</text>
<text x="445.8" y="52.8" text-anchor="end">0.5</text>
<text x="445.8" y="21.5" text-anchor="end">1</text>
<text x="37.5" y="183.7" text-anchor="middle">0</text>
<text x="76.7" y="183.7" text-anchor="middle">0.5</text>
<text x="115.3" y="183.7" text-anchor="middle">1</text>
<text x="34.7" y="173.9" text-anchor="end">0</text>
<text x="34.7" y="142.6" text-anchor="end">0.5</text>
<text x="34.7" y="111.4" text-anchor="end">1</text>
<text x="140.3" y="183.7" text-anchor="middle">0</text>
<text x="179.4" y="183.7" text-anchor="middle">0.5</text>
<text x="218.1" y="183.7" text-anchor="middle">1</text>
<text x="137.5" y="173.9" text-anchor="end">0</text>
<text x="137.5" y="111.6" text-anchor="end">5</text>
<text x="243.1" y="183.7" text-anchor="middle">0</text>
<text x="282.2" y="183.7" text-anchor="middle">0.5</text>
<text x="320.9" y="183.7" text-anchor="middle">1</text>
<text x="240.3" y="173.9" text-anchor="end">0</text>
<text x="240.3" y="142.6" text-anchor="end">0.5</text>
<text x="240.3" y="111.4" text-anchor="end">1</text>
<text x="345.8" y="183.7" text-anchor="middle">0</text>
<text x="384.9" y="183.7" text-anchor="middle">0.5</text>
<text x="423.6" y="183.7" text-anchor="middle">1</text>
<text x="343" y="173.9" text-anchor="end">0</text>
<text x="343" y="142.6" text-anchor="end">0.5</text>
<text x="343" y="111.4" text-anchor="end">1</text>
<text x="448.6" y="183.7" text-anchor="middle">0</text>
<text x="487.8" y="183.7" text-anchor="middle">0.5</text>
<text x="526.4" y="183.7" text-anchor="middle">1</text>
<text x="445.8" y="173.9" text-anchor="end">0</text>
<text x="445.8" y="142.6" text-anchor="end">0.5</text>
<text x="445.8" y="111.4" text-anchor="end">1</text>
<text x="37.5" y="273.5" text-anchor="middle">0</text>
<text x="76.7" y="273.5" text-anchor="middle">0.5</text>
<text x="115.3" y="273.5" text-anchor="middle">1</text>
<text x="34.7" y="263.8" text-anchor="end">0</text>
<text x="34.7" y="232.5" text-anchor="end">0.5</text>
<text x="34.7" y="201.2" text-anchor="end">1</text>
<text x="140.3" y="273.5" text-anchor="middle">0</text>
<text x="179.4" y="273.5" text-anchor="middle">0.5</text>
<text x="218.1" y="273.5" text-anchor="middle">1</text>
<text x="137.5" y="263.8" text-anchor="end">0</text>
<text x="137.5" y="232.5" text-anchor="end">0.5</text>
<text x="137.5" y="201.2" text-anchor="end">1</text>
<text x="243.1" y="273.5" text-anchor="middle">0</text>
<text x="282.2" y="273.5" text-anchor="middle">0.5</text>
<text x="320.9" y="273.5" text-anchor="middle">1</text>
<text x="240.3" y="263.8" text-anchor="end">0</text>
<text x="240.3" y="211.9" text-anchor="end">5</text>
<text x="345.8" y="273.5" text-anchor="middle">0</text>
<text x="384.9" y="273.5" text-anchor="middle">0.5</text>
<text x="423.6" y="273.5" text-anchor="middle">1</text>
<text x="343" y="263.8" text-anchor="end">0</text>
<text x="343" y="232.5" text-anchor="end">0.5</text>
<text x="343" y="201.2" text-anchor="end">1</text>
<text x="448.6" y="273.5" text-anchor="middle">0</text>
<text x="487.8" y="273.5" text-anchor="middle">0.5</text>
<text x="526.4" y="273.5" text-anchor="middle">1</text>
<text x="445.8" y="263.8" text-anchor="end">0</text>
<text x="445.8" y="232.5" text-anchor="end">0.5</text>
<text x="445.8" y="201.2" text-anchor="end">1</text>
<text x="37.5" y="363.4" text-anchor="middle">0</text>
<text x="76.7" y="363.4" text-anchor="middle">0.5</text>
<text x="115.3" y="363.4" text-anchor="middle">1</text>
<text x="34.7" y="353.8" text-anchor="end">0</text>
<text x="34.7" y="322.4" text-anchor="end">0.5</text>
<text x="34.7" y="291.1" text-anchor="end">1</text>
<text x="140.3" y="363.4" text-anchor="middle">0</text>
<text x="179.4" y="363.4" text-anchor="middle">0.5</text>
<text x="218.1" y="363.4" text-anchor="middle">1</text>
<text x="137.5" y="353.8" text-anchor="end">0</text>
<text x="137.5" y="322.4" text-anchor="end">0.5</text>
<text x="137.5" y="291.1" text-anchor="end">1</text>
<text x="243.1" y="363.4" text-anchor="middle">0</text>
<text x="282.2" y="363.4" text-anchor="middle">0.5</text>
<text x="320.9" y="363.4" text-anchor="middle">1</text>
<text x="240.3" y="353.8" text-anchor="end">0</text>
<text x="240.3" y="322.4" text-anchor="end">0.5</text>
<text x="240.3" y="291.1" text-anchor="end">1</text>
<text x="345.8" y="363.4" text-anchor="middle">0</text>
<text x="384.9" y="363.4" text-anchor="middle">0.5</text>
<text x="423.6" y="363.4" text-anchor="middle">1</text>
<text x="343" y="353.8" text-anchor="end">0</text>
<text x="343" y="301.6" text-anchor="end">5</text>
<text x="448.6" y="363.4" text-anchor="middle">0</text>
<text x="487.8" y="363.4" text-anchor="middle">0.5</text>
<text x="526.4" y="363.4" text-anchor="middle">1</text>
<text x="445.8" y="353.8" text-anchor="end">0</text>
<text x="445.8" y="322.4" text-anchor="end">0.5</text>
<text x="445.8" y="291.1" text-anchor="end">1</text>
<text x="37.5" y="453.3" text-anchor="middle">0</text>
<text x="76.7" y="453.3" text-anchor="middle">0.5</text>
<text x="115.3" y="453.3" text-anchor="middle">1</text>
<text x="34.7" y="443.6" text-anchor="end">0</text>
<text x="34.7" y="412.3" text-anchor="end">0.5</text>
<text x="34.7" y="381" text-anchor="end">1</text>
<text x="140.3" y="453.3" text-anchor="middle">0</text>
<text x="179.4" y="453.3" text-anchor="middle">0.5</text>
<text x="218.1" y="453.3" text-anchor="middle">1</text>
<text x="137.5" y="443.6" text-anchor="end">0</text>
<text x="137.5" y="412.3" text-anchor="end">0.5</text>
<text x="137.5" y="381" text-anchor="end">1</text>
<text x="243.1" y="453.3" text-anchor="middle">0</text>
<text x="282.2" y="453.3" text-anchor="middle">0.5</text>
<text x="320.9" y="453.3" text-anchor="middle">1</text>
<text x="240.3" y="443.6" text-anchor="end">0</text>
<text x="240.3" y="412.3" text-anchor="end">0.5</text>
<text x="240.3" y="381" text-anchor="end">1</text>
<text x="345.8" y="453.3" text-anchor="middle">0</text>
<text x="384.9" y="453.3" text-anchor="middle">0.5</text>
<text x="423.6" y="453.3" text-anchor="middle">1</text>
<text x="343" y="443.6" text-anchor="end">0</text>
<text x="343" y="412.3" text-anchor="end">0.5</text>
<text x="343" y="381" text-anchor="end">1</text>
<text x="448.6" y="453.3" text-anchor="middle">0</text>
<text x="487.8" y="453.3" text-anchor="middle">0.5</text>
<text x="526.4" y="453.3" text-anchor="middle">1</text>
<text x="445.8" y="443.6" text-anchor="end">0</text>
<text x="445.8" y="418.6" text-anchor="end">5</text>
<text x="445.8" y="393.6" text-anchor="end">10</text>
</g>
<g font-size="11.7" fill="#262626" stroke="#262626" stroke-width="0.2">
<text x="76.7" y="468" text-anchor="middle">contrast</text>
<text x="179.4" y="468" text-anchor="middle">correlation</text>
<text x="282.2" y="468" text-anchor="middle">energy</text>
<text x="384.9" y="468" text-anchor="middle">homogeneity</text>
<text x="487.8" y="468" text-anchor="middle">entropy</text>
<text transform="translate(25.5 47.7) rotate(-90)" text-anchor="middle">contrast</text>
<text transform="translate(16 137.6) rotate(-90)" text-anchor="middle">correlation</text>
<text transform="translate(16 227.4) rotate(-90)" text-anchor="middle">energy</text>
<text transform="translate(16 317.4) rotate(-90)" text-anchor="middle">homogeneity</text>
<text transform="translate(16 407.2) rotate(-90)" text-anchor="middle">entropy</text>
</g>
<g font-size="10.5" fill="#111" stroke="#111" stroke-width="0.25">
<circle cx="44.2" cy="487.5" r="2" fill="#0072BD" stroke="none"/>
<text x="53.6" y="492.2" textLength="58.8" lengthAdjust="spacingAndGlyphs">Lithofacies 1</text>
<circle cx="142.6" cy="487.5" r="2" fill="#D95319" stroke="none"/>
<text x="152.4" y="492.2" textLength="58.8" lengthAdjust="spacingAndGlyphs">Lithofacies 2</text>
<circle cx="235.1" cy="487.5" r="2" fill="#F5AE1E" stroke="none"/>
<text x="243.2" y="492.2" textLength="58.8" lengthAdjust="spacingAndGlyphs">Lithofacies 3</text>
<circle cx="328.3" cy="487.5" r="2" fill="#7E1F8E" stroke="none"/>
<text x="338.7" y="492.2" textLength="58.8" lengthAdjust="spacingAndGlyphs">Lithofacies 4</text>
<circle cx="422.2" cy="487.5" r="2" fill="#2E8B20" stroke="none"/>
<text x="432.5" y="492.2" textLength="58.8" lengthAdjust="spacingAndGlyphs">Lithofacies 5</text>
</g>
<text x="271.8" y="541.7" text-anchor="middle" font-family="'Liberation Serif', 'DejaVu Serif', serif" font-size="25.5" fill="#000">(<tspan font-weight="bold" font-size="23.5">a</tspan>)</text>
</svg>
</body>
</html>
